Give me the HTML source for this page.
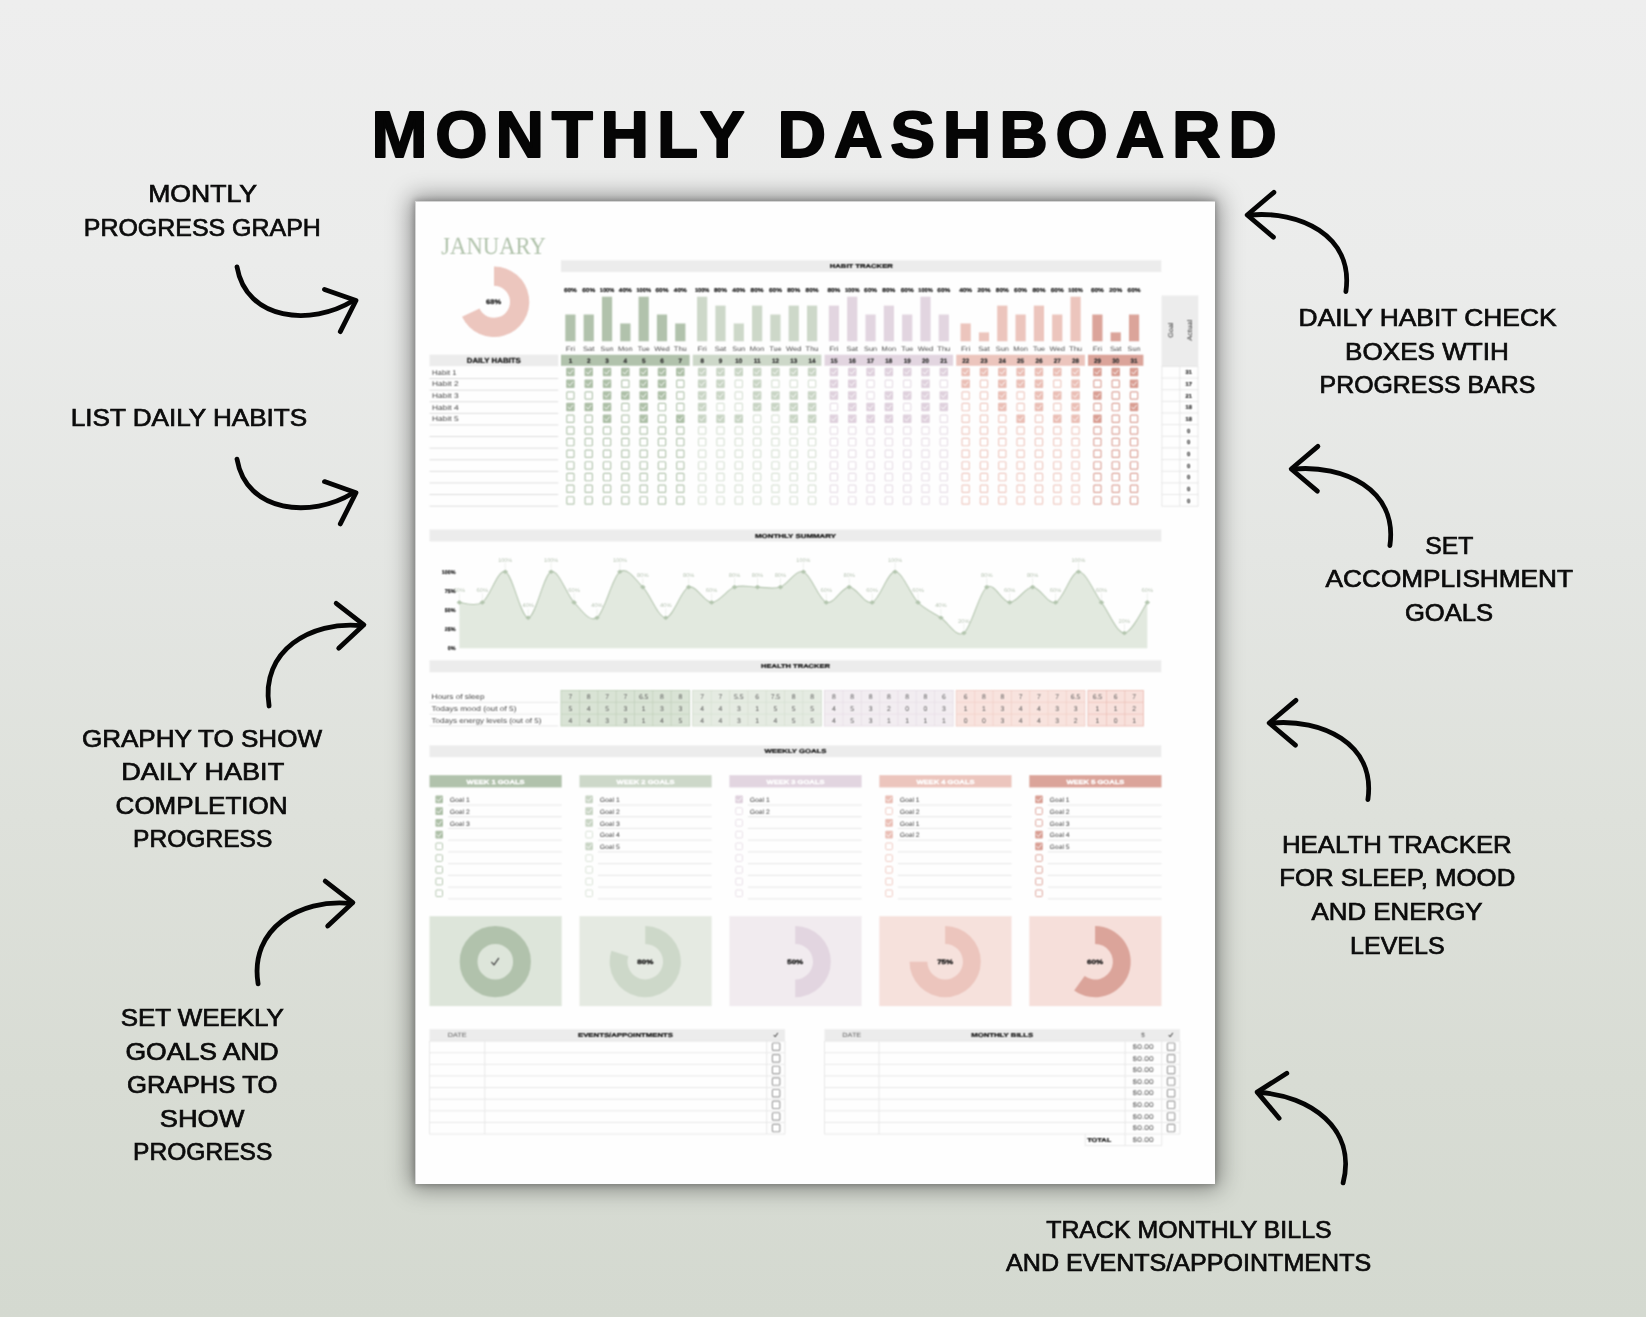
<!DOCTYPE html>
<html><head><meta charset="utf-8"><title>Monthly Dashboard</title>
<style>
html,body{margin:0;padding:0;}
body{width:1646px;height:1317px;overflow:hidden;font-family:"Liberation Sans",sans-serif;}
#root{position:relative;width:1646px;height:1317px;overflow:hidden;
 background:linear-gradient(180deg,#eeeeee 0%,#ebeceb 20%,#e4e6e3 42%,#dee1db 62%,#d8dcd4 82%,#d4d9d0 100%);}
#paper{position:absolute;left:415px;top:201px;width:799px;height:982px;background:#fefefe;border-top:1px solid #d4d4d4;border-left:1px solid #d4d4d4;
 box-shadow:0 0 22px 4px rgba(0,0,0,.42),0 0 6px 1px rgba(0,0,0,.24);}
svg{position:absolute;left:0;top:0;will-change:transform;}
.lab{font-family:"Liberation Sans",sans-serif;font-size:23.6px;fill:#0b0b0b;stroke:#0b0b0b;stroke-width:.7px;}
.ttl{font-family:"Liberation Sans",sans-serif;font-weight:bold;font-size:64px;fill:#050505;stroke:#050505;stroke-width:1.9px;stroke-linejoin:round;}
.arr{fill:none;stroke:#050505;stroke-width:4.8;stroke-linecap:round;stroke-linejoin:round;}
</style></head><body>
<div id="root">
<div id="paper"></div>

<svg id="ov" width="1646" height="1317" viewBox="0 0 1646 1317">
<text class="ttl" transform="translate(371.5,156.6) scale(1.05,1)" letter-spacing="7.45">MONTHLY DASHBOARD</text>
<text class="lab" x="148.2" y="201.8" textLength="108.8" lengthAdjust="spacingAndGlyphs">MONTLY</text>
<text class="lab" x="83.8" y="235.5" textLength="237.0" lengthAdjust="spacingAndGlyphs">PROGRESS GRAPH</text>
<text class="lab" x="70.8" y="426.1" textLength="236.4" lengthAdjust="spacingAndGlyphs">LIST DAILY HABITS</text>
<text class="lab" x="81.9" y="746.5" textLength="240.1" lengthAdjust="spacingAndGlyphs">GRAPHY TO SHOW</text>
<text class="lab" x="121.2" y="780.1" textLength="163.0" lengthAdjust="spacingAndGlyphs">DAILY HABIT</text>
<text class="lab" x="115.6" y="813.7" textLength="172.0" lengthAdjust="spacingAndGlyphs">COMPLETION</text>
<text class="lab" x="133.1" y="847.3" textLength="139.2" lengthAdjust="spacingAndGlyphs">PROGRESS</text>
<text class="lab" x="120.7" y="1026.1" textLength="163.2" lengthAdjust="spacingAndGlyphs">SET WEEKLY</text>
<text class="lab" x="125.4" y="1059.6" textLength="153.4" lengthAdjust="spacingAndGlyphs">GOALS AND</text>
<text class="lab" x="127.0" y="1093.3" textLength="150.4" lengthAdjust="spacingAndGlyphs">GRAPHS TO</text>
<text class="lab" x="159.8" y="1126.8" textLength="84.5" lengthAdjust="spacingAndGlyphs">SHOW</text>
<text class="lab" x="133.1" y="1160.3" textLength="139.2" lengthAdjust="spacingAndGlyphs">PROGRESS</text>
<text class="lab" x="1298.6" y="326.0" textLength="258.0" lengthAdjust="spacingAndGlyphs">DAILY HABIT CHECK</text>
<text class="lab" x="1345.1" y="359.7" textLength="163.7" lengthAdjust="spacingAndGlyphs">BOXES WTIH</text>
<text class="lab" x="1319.6" y="393.0" textLength="215.7" lengthAdjust="spacingAndGlyphs">PROGRESS BARS</text>
<text class="lab" x="1425.3" y="554.1" textLength="48.0" lengthAdjust="spacingAndGlyphs">SET</text>
<text class="lab" x="1325.6" y="587.4" textLength="247.4" lengthAdjust="spacingAndGlyphs">ACCOMPLISHMENT</text>
<text class="lab" x="1404.9" y="620.8" textLength="88.2" lengthAdjust="spacingAndGlyphs">GOALS</text>
<text class="lab" x="1282.0" y="852.8" textLength="229.7" lengthAdjust="spacingAndGlyphs">HEALTH TRACKER</text>
<text class="lab" x="1279.2" y="886.2" textLength="236.1" lengthAdjust="spacingAndGlyphs">FOR SLEEP, MOOD</text>
<text class="lab" x="1311.5" y="919.9" textLength="171.0" lengthAdjust="spacingAndGlyphs">AND ENERGY</text>
<text class="lab" x="1350.1" y="953.6" textLength="94.5" lengthAdjust="spacingAndGlyphs">LEVELS</text>
<text class="lab" x="1046.2" y="1237.8" textLength="285.4" lengthAdjust="spacingAndGlyphs">TRACK MONTHLY BILLS</text>
<text class="lab" x="1006.1" y="1271.1" textLength="365.1" lengthAdjust="spacingAndGlyphs">AND EVENTS/APPOINTMENTS</text>
<g transform="translate(0,0)"><path class="arr" d="M237,266.9 C246.3,320.9 311.5,326.3 353,300.8"/><path class="arr" d="M324.5,289.4 L356,300.5 L340.3,331.7"/></g>
<g transform="translate(0,192.2)"><path class="arr" d="M237,266.9 C246.3,320.9 311.5,326.3 353,300.8"/><path class="arr" d="M324.5,289.4 L356,300.5 L340.3,331.7"/></g>
<g transform="translate(0,0)"><path class="arr" d="M269.1,706 C260,650.4 311.3,620.9 361,625.6"/><path class="arr" d="M336.2,603.3 L363.9,624.8 L338.7,648.2"/></g>
<g transform="translate(-11,277.8)"><path class="arr" d="M269.1,706 C260,650.4 311.3,620.9 361,625.6"/><path class="arr" d="M336.2,603.3 L363.9,624.8 L338.7,648.2"/></g>
<g transform="translate(0,0)"><path class="arr" d="M1345.9,291.5 C1354,234.7 1298.5,210.6 1250,215"/><path class="arr" d="M1273.9,192.3 L1247.2,215 L1273.4,237.2"/></g>
<g transform="translate(44,254)"><path class="arr" d="M1345.9,291.5 C1354,234.7 1298.5,210.6 1250,215"/><path class="arr" d="M1273.9,192.3 L1247.2,215 L1273.4,237.2"/></g>
<g transform="translate(22,508)"><path class="arr" d="M1345.9,291.5 C1354,234.7 1298.5,210.6 1250,215"/><path class="arr" d="M1273.9,192.3 L1247.2,215 L1273.4,237.2"/></g>
<g><path class="arr" d="M1343.1,1182.9 C1357.2,1127.9 1308.9,1095.8 1260,1092.5"/><path class="arr" d="M1286.8,1073.3 L1257.2,1092.1 L1279.1,1118.2"/></g>
</svg>
<svg id="pp" width="1646" height="1317" viewBox="0 0 1646 1317" font-family="'Liberation Sans',sans-serif" text-rendering="geometricPrecision"><defs><filter id="bl" x="416" y="202" width="798" height="981" filterUnits="userSpaceOnUse" color-interpolation-filters="sRGB"><feConvolveMatrix order="3" kernelMatrix="1 2 1 2 4 2 1 2 1" divisor="16" edgeMode="duplicate" preserveAlpha="false"/></filter></defs><g filter="url(#bl)">
<text x="441.20" y="253.80" font-size="24.5" fill="#b1c3ac" text-anchor="start" font-weight="normal" textLength="104.6" lengthAdjust="spacingAndGlyphs" font-family='Liberation Serif' >JANUARY</text>
<path d="M494.00,266.50 A35.30,35.30 0 1 1 462.06,316.83 L479.52,308.61 A16.00,16.00 0 1 0 494.00,285.80 Z" fill="#ecc6be"/>
<text x="493.60" y="304.10" font-size="6.6" fill="#111" text-anchor="middle" font-weight="bold" textLength="15.0" lengthAdjust="spacingAndGlyphs" stroke="#111" stroke-width=".25">68%</text>
<rect x="561.00" y="260.30" width="600.30" height="11.70" fill="#ececec" />
<text x="861.30" y="268.40" font-size="5.8" fill="#111" text-anchor="middle" font-weight="bold" textLength="63.0" lengthAdjust="spacingAndGlyphs"  stroke="#111" stroke-width=".22">HABIT TRACKER</text>
<rect x="565.30" y="314.54" width="10.20" height="26.76" fill="#b1c2ac" />
<text x="570.40" y="292.30" font-size="5.6" fill="#111" text-anchor="middle" font-weight="bold" textLength="13.0" lengthAdjust="spacingAndGlyphs" stroke="#111" stroke-width=".2">60%</text>
<text x="570.40" y="351.00" font-size="6.5" fill="#4c4c4c" text-anchor="middle" font-weight="normal" textLength="9.5" lengthAdjust="spacingAndGlyphs" >Fri</text>
<rect x="583.62" y="314.54" width="10.20" height="26.76" fill="#b1c2ac" />
<text x="588.72" y="292.30" font-size="5.6" fill="#111" text-anchor="middle" font-weight="bold" textLength="13.0" lengthAdjust="spacingAndGlyphs" stroke="#111" stroke-width=".2">60%</text>
<text x="588.72" y="351.00" font-size="6.5" fill="#4c4c4c" text-anchor="middle" font-weight="normal" textLength="11.5" lengthAdjust="spacingAndGlyphs" >Sat</text>
<rect x="601.94" y="296.70" width="10.20" height="44.60" fill="#b1c2ac" />
<text x="607.04" y="292.30" font-size="5.6" fill="#111" text-anchor="middle" font-weight="bold" textLength="14.5" lengthAdjust="spacingAndGlyphs" stroke="#111" stroke-width=".2">100%</text>
<text x="607.04" y="351.00" font-size="6.5" fill="#4c4c4c" text-anchor="middle" font-weight="normal" textLength="13.0" lengthAdjust="spacingAndGlyphs" >Sun</text>
<rect x="620.26" y="323.46" width="10.20" height="17.84" fill="#b1c2ac" />
<text x="625.36" y="292.30" font-size="5.6" fill="#111" text-anchor="middle" font-weight="bold" textLength="13.0" lengthAdjust="spacingAndGlyphs" stroke="#111" stroke-width=".2">40%</text>
<text x="625.36" y="351.00" font-size="6.5" fill="#4c4c4c" text-anchor="middle" font-weight="normal" textLength="14.5" lengthAdjust="spacingAndGlyphs" >Mon</text>
<rect x="638.58" y="296.70" width="10.20" height="44.60" fill="#b1c2ac" />
<text x="643.68" y="292.30" font-size="5.6" fill="#111" text-anchor="middle" font-weight="bold" textLength="14.5" lengthAdjust="spacingAndGlyphs" stroke="#111" stroke-width=".2">100%</text>
<text x="643.68" y="351.00" font-size="6.5" fill="#4c4c4c" text-anchor="middle" font-weight="normal" textLength="12.0" lengthAdjust="spacingAndGlyphs" >Tue</text>
<rect x="656.90" y="314.54" width="10.20" height="26.76" fill="#b1c2ac" />
<text x="662.00" y="292.30" font-size="5.6" fill="#111" text-anchor="middle" font-weight="bold" textLength="13.0" lengthAdjust="spacingAndGlyphs" stroke="#111" stroke-width=".2">60%</text>
<text x="662.00" y="351.00" font-size="6.5" fill="#4c4c4c" text-anchor="middle" font-weight="normal" textLength="15.5" lengthAdjust="spacingAndGlyphs" >Wed</text>
<rect x="675.22" y="323.46" width="10.20" height="17.84" fill="#b1c2ac" />
<text x="680.32" y="292.30" font-size="5.6" fill="#111" text-anchor="middle" font-weight="bold" textLength="13.0" lengthAdjust="spacingAndGlyphs" stroke="#111" stroke-width=".2">40%</text>
<text x="680.32" y="351.00" font-size="6.5" fill="#4c4c4c" text-anchor="middle" font-weight="normal" textLength="13.0" lengthAdjust="spacingAndGlyphs" >Thu</text>
<rect x="697.05" y="296.70" width="10.20" height="44.60" fill="#cdd8c9" />
<text x="702.15" y="292.30" font-size="5.6" fill="#111" text-anchor="middle" font-weight="bold" textLength="14.5" lengthAdjust="spacingAndGlyphs" stroke="#111" stroke-width=".2">100%</text>
<text x="702.15" y="351.00" font-size="6.5" fill="#4c4c4c" text-anchor="middle" font-weight="normal" textLength="9.5" lengthAdjust="spacingAndGlyphs" >Fri</text>
<rect x="715.37" y="305.62" width="10.20" height="35.68" fill="#cdd8c9" />
<text x="720.47" y="292.30" font-size="5.6" fill="#111" text-anchor="middle" font-weight="bold" textLength="13.0" lengthAdjust="spacingAndGlyphs" stroke="#111" stroke-width=".2">80%</text>
<text x="720.47" y="351.00" font-size="6.5" fill="#4c4c4c" text-anchor="middle" font-weight="normal" textLength="11.5" lengthAdjust="spacingAndGlyphs" >Sat</text>
<rect x="733.69" y="323.46" width="10.20" height="17.84" fill="#cdd8c9" />
<text x="738.79" y="292.30" font-size="5.6" fill="#111" text-anchor="middle" font-weight="bold" textLength="13.0" lengthAdjust="spacingAndGlyphs" stroke="#111" stroke-width=".2">40%</text>
<text x="738.79" y="351.00" font-size="6.5" fill="#4c4c4c" text-anchor="middle" font-weight="normal" textLength="13.0" lengthAdjust="spacingAndGlyphs" >Sun</text>
<rect x="752.01" y="305.62" width="10.20" height="35.68" fill="#cdd8c9" />
<text x="757.11" y="292.30" font-size="5.6" fill="#111" text-anchor="middle" font-weight="bold" textLength="13.0" lengthAdjust="spacingAndGlyphs" stroke="#111" stroke-width=".2">80%</text>
<text x="757.11" y="351.00" font-size="6.5" fill="#4c4c4c" text-anchor="middle" font-weight="normal" textLength="14.5" lengthAdjust="spacingAndGlyphs" >Mon</text>
<rect x="770.33" y="314.54" width="10.20" height="26.76" fill="#cdd8c9" />
<text x="775.43" y="292.30" font-size="5.6" fill="#111" text-anchor="middle" font-weight="bold" textLength="13.0" lengthAdjust="spacingAndGlyphs" stroke="#111" stroke-width=".2">60%</text>
<text x="775.43" y="351.00" font-size="6.5" fill="#4c4c4c" text-anchor="middle" font-weight="normal" textLength="12.0" lengthAdjust="spacingAndGlyphs" >Tue</text>
<rect x="788.65" y="305.62" width="10.20" height="35.68" fill="#cdd8c9" />
<text x="793.75" y="292.30" font-size="5.6" fill="#111" text-anchor="middle" font-weight="bold" textLength="13.0" lengthAdjust="spacingAndGlyphs" stroke="#111" stroke-width=".2">80%</text>
<text x="793.75" y="351.00" font-size="6.5" fill="#4c4c4c" text-anchor="middle" font-weight="normal" textLength="15.5" lengthAdjust="spacingAndGlyphs" >Wed</text>
<rect x="806.97" y="305.62" width="10.20" height="35.68" fill="#cdd8c9" />
<text x="812.07" y="292.30" font-size="5.6" fill="#111" text-anchor="middle" font-weight="bold" textLength="13.0" lengthAdjust="spacingAndGlyphs" stroke="#111" stroke-width=".2">80%</text>
<text x="812.07" y="351.00" font-size="6.5" fill="#4c4c4c" text-anchor="middle" font-weight="normal" textLength="13.0" lengthAdjust="spacingAndGlyphs" >Thu</text>
<rect x="828.80" y="305.62" width="10.20" height="35.68" fill="#e2d5e0" />
<text x="833.90" y="292.30" font-size="5.6" fill="#111" text-anchor="middle" font-weight="bold" textLength="13.0" lengthAdjust="spacingAndGlyphs" stroke="#111" stroke-width=".2">80%</text>
<text x="833.90" y="351.00" font-size="6.5" fill="#4c4c4c" text-anchor="middle" font-weight="normal" textLength="9.5" lengthAdjust="spacingAndGlyphs" >Fri</text>
<rect x="847.12" y="296.70" width="10.20" height="44.60" fill="#e2d5e0" />
<text x="852.22" y="292.30" font-size="5.6" fill="#111" text-anchor="middle" font-weight="bold" textLength="14.5" lengthAdjust="spacingAndGlyphs" stroke="#111" stroke-width=".2">100%</text>
<text x="852.22" y="351.00" font-size="6.5" fill="#4c4c4c" text-anchor="middle" font-weight="normal" textLength="11.5" lengthAdjust="spacingAndGlyphs" >Sat</text>
<rect x="865.44" y="314.54" width="10.20" height="26.76" fill="#e2d5e0" />
<text x="870.54" y="292.30" font-size="5.6" fill="#111" text-anchor="middle" font-weight="bold" textLength="13.0" lengthAdjust="spacingAndGlyphs" stroke="#111" stroke-width=".2">60%</text>
<text x="870.54" y="351.00" font-size="6.5" fill="#4c4c4c" text-anchor="middle" font-weight="normal" textLength="13.0" lengthAdjust="spacingAndGlyphs" >Sun</text>
<rect x="883.76" y="305.62" width="10.20" height="35.68" fill="#e2d5e0" />
<text x="888.86" y="292.30" font-size="5.6" fill="#111" text-anchor="middle" font-weight="bold" textLength="13.0" lengthAdjust="spacingAndGlyphs" stroke="#111" stroke-width=".2">80%</text>
<text x="888.86" y="351.00" font-size="6.5" fill="#4c4c4c" text-anchor="middle" font-weight="normal" textLength="14.5" lengthAdjust="spacingAndGlyphs" >Mon</text>
<rect x="902.08" y="314.54" width="10.20" height="26.76" fill="#e2d5e0" />
<text x="907.18" y="292.30" font-size="5.6" fill="#111" text-anchor="middle" font-weight="bold" textLength="13.0" lengthAdjust="spacingAndGlyphs" stroke="#111" stroke-width=".2">60%</text>
<text x="907.18" y="351.00" font-size="6.5" fill="#4c4c4c" text-anchor="middle" font-weight="normal" textLength="12.0" lengthAdjust="spacingAndGlyphs" >Tue</text>
<rect x="920.40" y="296.70" width="10.20" height="44.60" fill="#e2d5e0" />
<text x="925.50" y="292.30" font-size="5.6" fill="#111" text-anchor="middle" font-weight="bold" textLength="14.5" lengthAdjust="spacingAndGlyphs" stroke="#111" stroke-width=".2">100%</text>
<text x="925.50" y="351.00" font-size="6.5" fill="#4c4c4c" text-anchor="middle" font-weight="normal" textLength="15.5" lengthAdjust="spacingAndGlyphs" >Wed</text>
<rect x="938.72" y="314.54" width="10.20" height="26.76" fill="#e2d5e0" />
<text x="943.82" y="292.30" font-size="5.6" fill="#111" text-anchor="middle" font-weight="bold" textLength="13.0" lengthAdjust="spacingAndGlyphs" stroke="#111" stroke-width=".2">60%</text>
<text x="943.82" y="351.00" font-size="6.5" fill="#4c4c4c" text-anchor="middle" font-weight="normal" textLength="13.0" lengthAdjust="spacingAndGlyphs" >Thu</text>
<rect x="960.55" y="323.46" width="10.20" height="17.84" fill="#ecc5bd" />
<text x="965.65" y="292.30" font-size="5.6" fill="#111" text-anchor="middle" font-weight="bold" textLength="13.0" lengthAdjust="spacingAndGlyphs" stroke="#111" stroke-width=".2">40%</text>
<text x="965.65" y="351.00" font-size="6.5" fill="#4c4c4c" text-anchor="middle" font-weight="normal" textLength="9.5" lengthAdjust="spacingAndGlyphs" >Fri</text>
<rect x="978.87" y="332.38" width="10.20" height="8.92" fill="#ecc5bd" />
<text x="983.97" y="292.30" font-size="5.6" fill="#111" text-anchor="middle" font-weight="bold" textLength="13.0" lengthAdjust="spacingAndGlyphs" stroke="#111" stroke-width=".2">20%</text>
<text x="983.97" y="351.00" font-size="6.5" fill="#4c4c4c" text-anchor="middle" font-weight="normal" textLength="11.5" lengthAdjust="spacingAndGlyphs" >Sat</text>
<rect x="997.19" y="305.62" width="10.20" height="35.68" fill="#ecc5bd" />
<text x="1002.29" y="292.30" font-size="5.6" fill="#111" text-anchor="middle" font-weight="bold" textLength="13.0" lengthAdjust="spacingAndGlyphs" stroke="#111" stroke-width=".2">80%</text>
<text x="1002.29" y="351.00" font-size="6.5" fill="#4c4c4c" text-anchor="middle" font-weight="normal" textLength="13.0" lengthAdjust="spacingAndGlyphs" >Sun</text>
<rect x="1015.51" y="314.54" width="10.20" height="26.76" fill="#ecc5bd" />
<text x="1020.61" y="292.30" font-size="5.6" fill="#111" text-anchor="middle" font-weight="bold" textLength="13.0" lengthAdjust="spacingAndGlyphs" stroke="#111" stroke-width=".2">60%</text>
<text x="1020.61" y="351.00" font-size="6.5" fill="#4c4c4c" text-anchor="middle" font-weight="normal" textLength="14.5" lengthAdjust="spacingAndGlyphs" >Mon</text>
<rect x="1033.83" y="305.62" width="10.20" height="35.68" fill="#ecc5bd" />
<text x="1038.93" y="292.30" font-size="5.6" fill="#111" text-anchor="middle" font-weight="bold" textLength="13.0" lengthAdjust="spacingAndGlyphs" stroke="#111" stroke-width=".2">80%</text>
<text x="1038.93" y="351.00" font-size="6.5" fill="#4c4c4c" text-anchor="middle" font-weight="normal" textLength="12.0" lengthAdjust="spacingAndGlyphs" >Tue</text>
<rect x="1052.15" y="314.54" width="10.20" height="26.76" fill="#ecc5bd" />
<text x="1057.25" y="292.30" font-size="5.6" fill="#111" text-anchor="middle" font-weight="bold" textLength="13.0" lengthAdjust="spacingAndGlyphs" stroke="#111" stroke-width=".2">60%</text>
<text x="1057.25" y="351.00" font-size="6.5" fill="#4c4c4c" text-anchor="middle" font-weight="normal" textLength="15.5" lengthAdjust="spacingAndGlyphs" >Wed</text>
<rect x="1070.47" y="296.70" width="10.20" height="44.60" fill="#ecc5bd" />
<text x="1075.57" y="292.30" font-size="5.6" fill="#111" text-anchor="middle" font-weight="bold" textLength="14.5" lengthAdjust="spacingAndGlyphs" stroke="#111" stroke-width=".2">100%</text>
<text x="1075.57" y="351.00" font-size="6.5" fill="#4c4c4c" text-anchor="middle" font-weight="normal" textLength="13.0" lengthAdjust="spacingAndGlyphs" >Thu</text>
<rect x="1092.30" y="314.54" width="10.20" height="26.76" fill="#dba49a" />
<text x="1097.40" y="292.30" font-size="5.6" fill="#111" text-anchor="middle" font-weight="bold" textLength="13.0" lengthAdjust="spacingAndGlyphs" stroke="#111" stroke-width=".2">60%</text>
<text x="1097.40" y="351.00" font-size="6.5" fill="#4c4c4c" text-anchor="middle" font-weight="normal" textLength="9.5" lengthAdjust="spacingAndGlyphs" >Fri</text>
<rect x="1110.62" y="332.38" width="10.20" height="8.92" fill="#dba49a" />
<text x="1115.72" y="292.30" font-size="5.6" fill="#111" text-anchor="middle" font-weight="bold" textLength="13.0" lengthAdjust="spacingAndGlyphs" stroke="#111" stroke-width=".2">20%</text>
<text x="1115.72" y="351.00" font-size="6.5" fill="#4c4c4c" text-anchor="middle" font-weight="normal" textLength="11.5" lengthAdjust="spacingAndGlyphs" >Sat</text>
<rect x="1128.94" y="314.54" width="10.20" height="26.76" fill="#dba49a" />
<text x="1134.04" y="292.30" font-size="5.6" fill="#111" text-anchor="middle" font-weight="bold" textLength="13.0" lengthAdjust="spacingAndGlyphs" stroke="#111" stroke-width=".2">60%</text>
<text x="1134.04" y="351.00" font-size="6.5" fill="#4c4c4c" text-anchor="middle" font-weight="normal" textLength="13.0" lengthAdjust="spacingAndGlyphs" >Sun</text>
<rect x="561.00" y="354.70" width="128.64" height="11.10" fill="#b1c2ac" />
<rect x="692.75" y="354.70" width="128.64" height="11.10" fill="#cdd8c9" />
<rect x="824.50" y="354.70" width="128.64" height="11.10" fill="#e2d5e0" />
<rect x="956.25" y="354.70" width="128.64" height="11.10" fill="#ecc5bd" />
<rect x="1088.00" y="354.70" width="55.36" height="11.10" fill="#dba49a" />
<text x="570.40" y="362.60" font-size="6.3" fill="#333" text-anchor="middle" font-weight="bold"  stroke="#333" stroke-width=".22">1</text>
<text x="588.72" y="362.60" font-size="6.3" fill="#333" text-anchor="middle" font-weight="bold"  stroke="#333" stroke-width=".22">2</text>
<text x="607.04" y="362.60" font-size="6.3" fill="#333" text-anchor="middle" font-weight="bold"  stroke="#333" stroke-width=".22">3</text>
<text x="625.36" y="362.60" font-size="6.3" fill="#333" text-anchor="middle" font-weight="bold"  stroke="#333" stroke-width=".22">4</text>
<text x="643.68" y="362.60" font-size="6.3" fill="#333" text-anchor="middle" font-weight="bold"  stroke="#333" stroke-width=".22">5</text>
<text x="662.00" y="362.60" font-size="6.3" fill="#333" text-anchor="middle" font-weight="bold"  stroke="#333" stroke-width=".22">6</text>
<text x="680.32" y="362.60" font-size="6.3" fill="#333" text-anchor="middle" font-weight="bold"  stroke="#333" stroke-width=".22">7</text>
<text x="702.15" y="362.60" font-size="6.3" fill="#333" text-anchor="middle" font-weight="bold"  stroke="#333" stroke-width=".22">8</text>
<text x="720.47" y="362.60" font-size="6.3" fill="#333" text-anchor="middle" font-weight="bold"  stroke="#333" stroke-width=".22">9</text>
<text x="738.79" y="362.60" font-size="6.3" fill="#333" text-anchor="middle" font-weight="bold"  stroke="#333" stroke-width=".22">10</text>
<text x="757.11" y="362.60" font-size="6.3" fill="#333" text-anchor="middle" font-weight="bold"  stroke="#333" stroke-width=".22">11</text>
<text x="775.43" y="362.60" font-size="6.3" fill="#333" text-anchor="middle" font-weight="bold"  stroke="#333" stroke-width=".22">12</text>
<text x="793.75" y="362.60" font-size="6.3" fill="#333" text-anchor="middle" font-weight="bold"  stroke="#333" stroke-width=".22">13</text>
<text x="812.07" y="362.60" font-size="6.3" fill="#333" text-anchor="middle" font-weight="bold"  stroke="#333" stroke-width=".22">14</text>
<text x="833.90" y="362.60" font-size="6.3" fill="#333" text-anchor="middle" font-weight="bold"  stroke="#333" stroke-width=".22">15</text>
<text x="852.22" y="362.60" font-size="6.3" fill="#333" text-anchor="middle" font-weight="bold"  stroke="#333" stroke-width=".22">16</text>
<text x="870.54" y="362.60" font-size="6.3" fill="#333" text-anchor="middle" font-weight="bold"  stroke="#333" stroke-width=".22">17</text>
<text x="888.86" y="362.60" font-size="6.3" fill="#333" text-anchor="middle" font-weight="bold"  stroke="#333" stroke-width=".22">18</text>
<text x="907.18" y="362.60" font-size="6.3" fill="#333" text-anchor="middle" font-weight="bold"  stroke="#333" stroke-width=".22">19</text>
<text x="925.50" y="362.60" font-size="6.3" fill="#333" text-anchor="middle" font-weight="bold"  stroke="#333" stroke-width=".22">20</text>
<text x="943.82" y="362.60" font-size="6.3" fill="#333" text-anchor="middle" font-weight="bold"  stroke="#333" stroke-width=".22">21</text>
<text x="965.65" y="362.60" font-size="6.3" fill="#333" text-anchor="middle" font-weight="bold"  stroke="#333" stroke-width=".22">22</text>
<text x="983.97" y="362.60" font-size="6.3" fill="#333" text-anchor="middle" font-weight="bold"  stroke="#333" stroke-width=".22">23</text>
<text x="1002.29" y="362.60" font-size="6.3" fill="#333" text-anchor="middle" font-weight="bold"  stroke="#333" stroke-width=".22">24</text>
<text x="1020.61" y="362.60" font-size="6.3" fill="#333" text-anchor="middle" font-weight="bold"  stroke="#333" stroke-width=".22">25</text>
<text x="1038.93" y="362.60" font-size="6.3" fill="#333" text-anchor="middle" font-weight="bold"  stroke="#333" stroke-width=".22">26</text>
<text x="1057.25" y="362.60" font-size="6.3" fill="#333" text-anchor="middle" font-weight="bold"  stroke="#333" stroke-width=".22">27</text>
<text x="1075.57" y="362.60" font-size="6.3" fill="#333" text-anchor="middle" font-weight="bold"  stroke="#333" stroke-width=".22">28</text>
<text x="1097.40" y="362.60" font-size="6.3" fill="#333" text-anchor="middle" font-weight="bold"  stroke="#333" stroke-width=".22">29</text>
<text x="1115.72" y="362.60" font-size="6.3" fill="#333" text-anchor="middle" font-weight="bold"  stroke="#333" stroke-width=".22">30</text>
<text x="1134.04" y="362.60" font-size="6.3" fill="#333" text-anchor="middle" font-weight="bold"  stroke="#333" stroke-width=".22">31</text>
<rect x="429.50" y="354.70" width="128.80" height="11.50" fill="#ececec" />
<text x="493.80" y="363.00" font-size="7.3" fill="#111" text-anchor="middle" font-weight="bold" textLength="54.0" lengthAdjust="spacingAndGlyphs"  stroke="#111" stroke-width=".22">DAILY HABITS</text>
<line x1="429.50" y1="378.55" x2="558.30" y2="378.55" stroke="#dcdcdc" stroke-width="0.9"/>
<line x1="429.50" y1="390.15" x2="558.30" y2="390.15" stroke="#dcdcdc" stroke-width="0.9"/>
<line x1="429.50" y1="401.75" x2="558.30" y2="401.75" stroke="#dcdcdc" stroke-width="0.9"/>
<line x1="429.50" y1="413.35" x2="558.30" y2="413.35" stroke="#dcdcdc" stroke-width="0.9"/>
<line x1="429.50" y1="424.95" x2="558.30" y2="424.95" stroke="#dcdcdc" stroke-width="0.9"/>
<line x1="429.50" y1="436.55" x2="558.30" y2="436.55" stroke="#dcdcdc" stroke-width="0.9"/>
<line x1="429.50" y1="448.15" x2="558.30" y2="448.15" stroke="#dcdcdc" stroke-width="0.9"/>
<line x1="429.50" y1="459.75" x2="558.30" y2="459.75" stroke="#dcdcdc" stroke-width="0.9"/>
<line x1="429.50" y1="471.35" x2="558.30" y2="471.35" stroke="#dcdcdc" stroke-width="0.9"/>
<line x1="429.50" y1="482.95" x2="558.30" y2="482.95" stroke="#dcdcdc" stroke-width="0.9"/>
<line x1="429.50" y1="494.55" x2="558.30" y2="494.55" stroke="#dcdcdc" stroke-width="0.9"/>
<line x1="429.50" y1="506.15" x2="558.30" y2="506.15" stroke="#dcdcdc" stroke-width="0.9"/>
<text x="432.00" y="374.80" font-size="6.9" fill="#484848" text-anchor="start" font-weight="normal" textLength="24.5" lengthAdjust="spacingAndGlyphs" >Habit 1</text>
<text x="432.00" y="386.45" font-size="6.9" fill="#484848" text-anchor="start" font-weight="normal" textLength="26.6" lengthAdjust="spacingAndGlyphs" >Habit 2</text>
<text x="432.00" y="398.10" font-size="6.9" fill="#484848" text-anchor="start" font-weight="normal" textLength="26.6" lengthAdjust="spacingAndGlyphs" >Habit 3</text>
<text x="432.00" y="409.75" font-size="6.9" fill="#484848" text-anchor="start" font-weight="normal" textLength="26.6" lengthAdjust="spacingAndGlyphs" >Habit 4</text>
<text x="432.00" y="421.40" font-size="6.9" fill="#484848" text-anchor="start" font-weight="normal" textLength="26.6" lengthAdjust="spacingAndGlyphs" >Habit 5</text>
<rect x="566.15" y="367.85" width="8.50" height="8.50" rx="1.0" fill="#aec0a8"/>
<path d="M568.10,372.20 l1.7,1.8 l3.1,-3.8" fill="none" stroke="#fff" stroke-opacity=".85" stroke-width="0.95" stroke-linecap="round" stroke-linejoin="round"/>
<rect x="584.47" y="367.85" width="8.50" height="8.50" rx="1.0" fill="#aec0a8"/>
<path d="M586.42,372.20 l1.7,1.8 l3.1,-3.8" fill="none" stroke="#fff" stroke-opacity=".85" stroke-width="0.95" stroke-linecap="round" stroke-linejoin="round"/>
<rect x="602.79" y="367.85" width="8.50" height="8.50" rx="1.0" fill="#aec0a8"/>
<path d="M604.74,372.20 l1.7,1.8 l3.1,-3.8" fill="none" stroke="#fff" stroke-opacity=".85" stroke-width="0.95" stroke-linecap="round" stroke-linejoin="round"/>
<rect x="621.11" y="367.85" width="8.50" height="8.50" rx="1.0" fill="#aec0a8"/>
<path d="M623.06,372.20 l1.7,1.8 l3.1,-3.8" fill="none" stroke="#fff" stroke-opacity=".85" stroke-width="0.95" stroke-linecap="round" stroke-linejoin="round"/>
<rect x="639.43" y="367.85" width="8.50" height="8.50" rx="1.0" fill="#aec0a8"/>
<path d="M641.38,372.20 l1.7,1.8 l3.1,-3.8" fill="none" stroke="#fff" stroke-opacity=".85" stroke-width="0.95" stroke-linecap="round" stroke-linejoin="round"/>
<rect x="657.75" y="367.85" width="8.50" height="8.50" rx="1.0" fill="#aec0a8"/>
<path d="M659.70,372.20 l1.7,1.8 l3.1,-3.8" fill="none" stroke="#fff" stroke-opacity=".85" stroke-width="0.95" stroke-linecap="round" stroke-linejoin="round"/>
<rect x="676.07" y="367.85" width="8.50" height="8.50" rx="1.0" fill="#aec0a8"/>
<path d="M678.02,372.20 l1.7,1.8 l3.1,-3.8" fill="none" stroke="#fff" stroke-opacity=".85" stroke-width="0.95" stroke-linecap="round" stroke-linejoin="round"/>
<rect x="697.90" y="367.85" width="8.50" height="8.50" rx="1.0" fill="#c9d5c5"/>
<path d="M699.85,372.20 l1.7,1.8 l3.1,-3.8" fill="none" stroke="#fff" stroke-opacity=".85" stroke-width="0.95" stroke-linecap="round" stroke-linejoin="round"/>
<rect x="716.22" y="367.85" width="8.50" height="8.50" rx="1.0" fill="#c9d5c5"/>
<path d="M718.17,372.20 l1.7,1.8 l3.1,-3.8" fill="none" stroke="#fff" stroke-opacity=".85" stroke-width="0.95" stroke-linecap="round" stroke-linejoin="round"/>
<rect x="734.54" y="367.85" width="8.50" height="8.50" rx="1.0" fill="#c9d5c5"/>
<path d="M736.49,372.20 l1.7,1.8 l3.1,-3.8" fill="none" stroke="#fff" stroke-opacity=".85" stroke-width="0.95" stroke-linecap="round" stroke-linejoin="round"/>
<rect x="752.86" y="367.85" width="8.50" height="8.50" rx="1.0" fill="#c9d5c5"/>
<path d="M754.81,372.20 l1.7,1.8 l3.1,-3.8" fill="none" stroke="#fff" stroke-opacity=".85" stroke-width="0.95" stroke-linecap="round" stroke-linejoin="round"/>
<rect x="771.18" y="367.85" width="8.50" height="8.50" rx="1.0" fill="#c9d5c5"/>
<path d="M773.13,372.20 l1.7,1.8 l3.1,-3.8" fill="none" stroke="#fff" stroke-opacity=".85" stroke-width="0.95" stroke-linecap="round" stroke-linejoin="round"/>
<rect x="789.50" y="367.85" width="8.50" height="8.50" rx="1.0" fill="#c9d5c5"/>
<path d="M791.45,372.20 l1.7,1.8 l3.1,-3.8" fill="none" stroke="#fff" stroke-opacity=".85" stroke-width="0.95" stroke-linecap="round" stroke-linejoin="round"/>
<rect x="807.82" y="367.85" width="8.50" height="8.50" rx="1.0" fill="#c9d5c5"/>
<path d="M809.77,372.20 l1.7,1.8 l3.1,-3.8" fill="none" stroke="#fff" stroke-opacity=".85" stroke-width="0.95" stroke-linecap="round" stroke-linejoin="round"/>
<rect x="829.65" y="367.85" width="8.50" height="8.50" rx="1.0" fill="#dfd1dd"/>
<path d="M831.60,372.20 l1.7,1.8 l3.1,-3.8" fill="none" stroke="#fff" stroke-opacity=".85" stroke-width="0.95" stroke-linecap="round" stroke-linejoin="round"/>
<rect x="847.97" y="367.85" width="8.50" height="8.50" rx="1.0" fill="#dfd1dd"/>
<path d="M849.92,372.20 l1.7,1.8 l3.1,-3.8" fill="none" stroke="#fff" stroke-opacity=".85" stroke-width="0.95" stroke-linecap="round" stroke-linejoin="round"/>
<rect x="866.29" y="367.85" width="8.50" height="8.50" rx="1.0" fill="#dfd1dd"/>
<path d="M868.24,372.20 l1.7,1.8 l3.1,-3.8" fill="none" stroke="#fff" stroke-opacity=".85" stroke-width="0.95" stroke-linecap="round" stroke-linejoin="round"/>
<rect x="884.61" y="367.85" width="8.50" height="8.50" rx="1.0" fill="#dfd1dd"/>
<path d="M886.56,372.20 l1.7,1.8 l3.1,-3.8" fill="none" stroke="#fff" stroke-opacity=".85" stroke-width="0.95" stroke-linecap="round" stroke-linejoin="round"/>
<rect x="902.93" y="367.85" width="8.50" height="8.50" rx="1.0" fill="#dfd1dd"/>
<path d="M904.88,372.20 l1.7,1.8 l3.1,-3.8" fill="none" stroke="#fff" stroke-opacity=".85" stroke-width="0.95" stroke-linecap="round" stroke-linejoin="round"/>
<rect x="921.25" y="367.85" width="8.50" height="8.50" rx="1.0" fill="#dfd1dd"/>
<path d="M923.20,372.20 l1.7,1.8 l3.1,-3.8" fill="none" stroke="#fff" stroke-opacity=".85" stroke-width="0.95" stroke-linecap="round" stroke-linejoin="round"/>
<rect x="939.57" y="367.85" width="8.50" height="8.50" rx="1.0" fill="#dfd1dd"/>
<path d="M941.52,372.20 l1.7,1.8 l3.1,-3.8" fill="none" stroke="#fff" stroke-opacity=".85" stroke-width="0.95" stroke-linecap="round" stroke-linejoin="round"/>
<rect x="961.40" y="367.85" width="8.50" height="8.50" rx="1.0" fill="#eabfb6"/>
<path d="M963.35,372.20 l1.7,1.8 l3.1,-3.8" fill="none" stroke="#fff" stroke-opacity=".85" stroke-width="0.95" stroke-linecap="round" stroke-linejoin="round"/>
<rect x="979.72" y="367.85" width="8.50" height="8.50" rx="1.0" fill="#eabfb6"/>
<path d="M981.67,372.20 l1.7,1.8 l3.1,-3.8" fill="none" stroke="#fff" stroke-opacity=".85" stroke-width="0.95" stroke-linecap="round" stroke-linejoin="round"/>
<rect x="998.04" y="367.85" width="8.50" height="8.50" rx="1.0" fill="#eabfb6"/>
<path d="M999.99,372.20 l1.7,1.8 l3.1,-3.8" fill="none" stroke="#fff" stroke-opacity=".85" stroke-width="0.95" stroke-linecap="round" stroke-linejoin="round"/>
<rect x="1016.36" y="367.85" width="8.50" height="8.50" rx="1.0" fill="#eabfb6"/>
<path d="M1018.31,372.20 l1.7,1.8 l3.1,-3.8" fill="none" stroke="#fff" stroke-opacity=".85" stroke-width="0.95" stroke-linecap="round" stroke-linejoin="round"/>
<rect x="1034.68" y="367.85" width="8.50" height="8.50" rx="1.0" fill="#eabfb6"/>
<path d="M1036.63,372.20 l1.7,1.8 l3.1,-3.8" fill="none" stroke="#fff" stroke-opacity=".85" stroke-width="0.95" stroke-linecap="round" stroke-linejoin="round"/>
<rect x="1053.00" y="367.85" width="8.50" height="8.50" rx="1.0" fill="#eabfb6"/>
<path d="M1054.95,372.20 l1.7,1.8 l3.1,-3.8" fill="none" stroke="#fff" stroke-opacity=".85" stroke-width="0.95" stroke-linecap="round" stroke-linejoin="round"/>
<rect x="1071.32" y="367.85" width="8.50" height="8.50" rx="1.0" fill="#eabfb6"/>
<path d="M1073.27,372.20 l1.7,1.8 l3.1,-3.8" fill="none" stroke="#fff" stroke-opacity=".85" stroke-width="0.95" stroke-linecap="round" stroke-linejoin="round"/>
<rect x="1093.15" y="367.85" width="8.50" height="8.50" rx="1.0" fill="#d99f94"/>
<path d="M1095.10,372.20 l1.7,1.8 l3.1,-3.8" fill="none" stroke="#fff" stroke-opacity=".85" stroke-width="0.95" stroke-linecap="round" stroke-linejoin="round"/>
<rect x="1111.47" y="367.85" width="8.50" height="8.50" rx="1.0" fill="#d99f94"/>
<path d="M1113.42,372.20 l1.7,1.8 l3.1,-3.8" fill="none" stroke="#fff" stroke-opacity=".85" stroke-width="0.95" stroke-linecap="round" stroke-linejoin="round"/>
<rect x="1129.79" y="367.85" width="8.50" height="8.50" rx="1.0" fill="#d99f94"/>
<path d="M1131.74,372.20 l1.7,1.8 l3.1,-3.8" fill="none" stroke="#fff" stroke-opacity=".85" stroke-width="0.95" stroke-linecap="round" stroke-linejoin="round"/>
<rect x="566.15" y="379.52" width="8.50" height="8.50" rx="1.0" fill="#aec0a8"/>
<path d="M568.10,383.87 l1.7,1.8 l3.1,-3.8" fill="none" stroke="#fff" stroke-opacity=".85" stroke-width="0.95" stroke-linecap="round" stroke-linejoin="round"/>
<rect x="584.47" y="379.52" width="8.50" height="8.50" rx="1.0" fill="#aec0a8"/>
<path d="M586.42,383.87 l1.7,1.8 l3.1,-3.8" fill="none" stroke="#fff" stroke-opacity=".85" stroke-width="0.95" stroke-linecap="round" stroke-linejoin="round"/>
<rect x="602.79" y="379.52" width="8.50" height="8.50" rx="1.0" fill="#aec0a8"/>
<path d="M604.74,383.87 l1.7,1.8 l3.1,-3.8" fill="none" stroke="#fff" stroke-opacity=".85" stroke-width="0.95" stroke-linecap="round" stroke-linejoin="round"/>
<rect x="621.71" y="380.12" width="7.30" height="7.30" rx="0.9" fill="#fff" stroke="#b7c8b2" stroke-width="1.2"/>
<rect x="639.43" y="379.52" width="8.50" height="8.50" rx="1.0" fill="#aec0a8"/>
<path d="M641.38,383.87 l1.7,1.8 l3.1,-3.8" fill="none" stroke="#fff" stroke-opacity=".85" stroke-width="0.95" stroke-linecap="round" stroke-linejoin="round"/>
<rect x="657.75" y="379.52" width="8.50" height="8.50" rx="1.0" fill="#aec0a8"/>
<path d="M659.70,383.87 l1.7,1.8 l3.1,-3.8" fill="none" stroke="#fff" stroke-opacity=".85" stroke-width="0.95" stroke-linecap="round" stroke-linejoin="round"/>
<rect x="676.67" y="380.12" width="7.30" height="7.30" rx="0.9" fill="#fff" stroke="#b7c8b2" stroke-width="1.2"/>
<rect x="697.90" y="379.52" width="8.50" height="8.50" rx="1.0" fill="#c9d5c5"/>
<path d="M699.85,383.87 l1.7,1.8 l3.1,-3.8" fill="none" stroke="#fff" stroke-opacity=".85" stroke-width="0.95" stroke-linecap="round" stroke-linejoin="round"/>
<rect x="716.22" y="379.52" width="8.50" height="8.50" rx="1.0" fill="#c9d5c5"/>
<path d="M718.17,383.87 l1.7,1.8 l3.1,-3.8" fill="none" stroke="#fff" stroke-opacity=".85" stroke-width="0.95" stroke-linecap="round" stroke-linejoin="round"/>
<rect x="735.14" y="380.12" width="7.30" height="7.30" rx="0.9" fill="#fff" stroke="#d9e2d6" stroke-width="1.2"/>
<rect x="752.86" y="379.52" width="8.50" height="8.50" rx="1.0" fill="#c9d5c5"/>
<path d="M754.81,383.87 l1.7,1.8 l3.1,-3.8" fill="none" stroke="#fff" stroke-opacity=".85" stroke-width="0.95" stroke-linecap="round" stroke-linejoin="round"/>
<rect x="771.78" y="380.12" width="7.30" height="7.30" rx="0.9" fill="#fff" stroke="#d9e2d6" stroke-width="1.2"/>
<rect x="790.10" y="380.12" width="7.30" height="7.30" rx="0.9" fill="#fff" stroke="#d9e2d6" stroke-width="1.2"/>
<rect x="808.42" y="380.12" width="7.30" height="7.30" rx="0.9" fill="#fff" stroke="#d9e2d6" stroke-width="1.2"/>
<rect x="829.65" y="379.52" width="8.50" height="8.50" rx="1.0" fill="#dfd1dd"/>
<path d="M831.60,383.87 l1.7,1.8 l3.1,-3.8" fill="none" stroke="#fff" stroke-opacity=".85" stroke-width="0.95" stroke-linecap="round" stroke-linejoin="round"/>
<rect x="847.97" y="379.52" width="8.50" height="8.50" rx="1.0" fill="#dfd1dd"/>
<path d="M849.92,383.87 l1.7,1.8 l3.1,-3.8" fill="none" stroke="#fff" stroke-opacity=".85" stroke-width="0.95" stroke-linecap="round" stroke-linejoin="round"/>
<rect x="866.89" y="380.12" width="7.30" height="7.30" rx="0.9" fill="#fff" stroke="#e8dfe7" stroke-width="1.2"/>
<rect x="885.21" y="380.12" width="7.30" height="7.30" rx="0.9" fill="#fff" stroke="#e8dfe7" stroke-width="1.2"/>
<rect x="903.53" y="380.12" width="7.30" height="7.30" rx="0.9" fill="#fff" stroke="#e8dfe7" stroke-width="1.2"/>
<rect x="921.25" y="379.52" width="8.50" height="8.50" rx="1.0" fill="#dfd1dd"/>
<path d="M923.20,383.87 l1.7,1.8 l3.1,-3.8" fill="none" stroke="#fff" stroke-opacity=".85" stroke-width="0.95" stroke-linecap="round" stroke-linejoin="round"/>
<rect x="940.17" y="380.12" width="7.30" height="7.30" rx="0.9" fill="#fff" stroke="#e8dfe7" stroke-width="1.2"/>
<rect x="961.40" y="379.52" width="8.50" height="8.50" rx="1.0" fill="#eabfb6"/>
<path d="M963.35,383.87 l1.7,1.8 l3.1,-3.8" fill="none" stroke="#fff" stroke-opacity=".85" stroke-width="0.95" stroke-linecap="round" stroke-linejoin="round"/>
<rect x="980.32" y="380.12" width="7.30" height="7.30" rx="0.9" fill="#fff" stroke="#efcbc3" stroke-width="1.2"/>
<rect x="998.04" y="379.52" width="8.50" height="8.50" rx="1.0" fill="#eabfb6"/>
<path d="M999.99,383.87 l1.7,1.8 l3.1,-3.8" fill="none" stroke="#fff" stroke-opacity=".85" stroke-width="0.95" stroke-linecap="round" stroke-linejoin="round"/>
<rect x="1016.36" y="379.52" width="8.50" height="8.50" rx="1.0" fill="#eabfb6"/>
<path d="M1018.31,383.87 l1.7,1.8 l3.1,-3.8" fill="none" stroke="#fff" stroke-opacity=".85" stroke-width="0.95" stroke-linecap="round" stroke-linejoin="round"/>
<rect x="1034.68" y="379.52" width="8.50" height="8.50" rx="1.0" fill="#eabfb6"/>
<path d="M1036.63,383.87 l1.7,1.8 l3.1,-3.8" fill="none" stroke="#fff" stroke-opacity=".85" stroke-width="0.95" stroke-linecap="round" stroke-linejoin="round"/>
<rect x="1053.60" y="380.12" width="7.30" height="7.30" rx="0.9" fill="#fff" stroke="#efcbc3" stroke-width="1.2"/>
<rect x="1071.32" y="379.52" width="8.50" height="8.50" rx="1.0" fill="#eabfb6"/>
<path d="M1073.27,383.87 l1.7,1.8 l3.1,-3.8" fill="none" stroke="#fff" stroke-opacity=".85" stroke-width="0.95" stroke-linecap="round" stroke-linejoin="round"/>
<rect x="1093.75" y="380.12" width="7.30" height="7.30" rx="0.9" fill="#fff" stroke="#dda79d" stroke-width="1.2"/>
<rect x="1112.07" y="380.12" width="7.30" height="7.30" rx="0.9" fill="#fff" stroke="#dda79d" stroke-width="1.2"/>
<rect x="1129.79" y="379.52" width="8.50" height="8.50" rx="1.0" fill="#d99f94"/>
<path d="M1131.74,383.87 l1.7,1.8 l3.1,-3.8" fill="none" stroke="#fff" stroke-opacity=".85" stroke-width="0.95" stroke-linecap="round" stroke-linejoin="round"/>
<rect x="566.75" y="391.78" width="7.30" height="7.30" rx="0.9" fill="#fff" stroke="#b7c8b2" stroke-width="1.2"/>
<rect x="585.07" y="391.78" width="7.30" height="7.30" rx="0.9" fill="#fff" stroke="#b7c8b2" stroke-width="1.2"/>
<rect x="602.79" y="391.18" width="8.50" height="8.50" rx="1.0" fill="#aec0a8"/>
<path d="M604.74,395.53 l1.7,1.8 l3.1,-3.8" fill="none" stroke="#fff" stroke-opacity=".85" stroke-width="0.95" stroke-linecap="round" stroke-linejoin="round"/>
<rect x="621.11" y="391.18" width="8.50" height="8.50" rx="1.0" fill="#aec0a8"/>
<path d="M623.06,395.53 l1.7,1.8 l3.1,-3.8" fill="none" stroke="#fff" stroke-opacity=".85" stroke-width="0.95" stroke-linecap="round" stroke-linejoin="round"/>
<rect x="639.43" y="391.18" width="8.50" height="8.50" rx="1.0" fill="#aec0a8"/>
<path d="M641.38,395.53 l1.7,1.8 l3.1,-3.8" fill="none" stroke="#fff" stroke-opacity=".85" stroke-width="0.95" stroke-linecap="round" stroke-linejoin="round"/>
<rect x="657.75" y="391.18" width="8.50" height="8.50" rx="1.0" fill="#aec0a8"/>
<path d="M659.70,395.53 l1.7,1.8 l3.1,-3.8" fill="none" stroke="#fff" stroke-opacity=".85" stroke-width="0.95" stroke-linecap="round" stroke-linejoin="round"/>
<rect x="676.67" y="391.78" width="7.30" height="7.30" rx="0.9" fill="#fff" stroke="#b7c8b2" stroke-width="1.2"/>
<rect x="697.90" y="391.18" width="8.50" height="8.50" rx="1.0" fill="#c9d5c5"/>
<path d="M699.85,395.53 l1.7,1.8 l3.1,-3.8" fill="none" stroke="#fff" stroke-opacity=".85" stroke-width="0.95" stroke-linecap="round" stroke-linejoin="round"/>
<rect x="716.22" y="391.18" width="8.50" height="8.50" rx="1.0" fill="#c9d5c5"/>
<path d="M718.17,395.53 l1.7,1.8 l3.1,-3.8" fill="none" stroke="#fff" stroke-opacity=".85" stroke-width="0.95" stroke-linecap="round" stroke-linejoin="round"/>
<rect x="735.14" y="391.78" width="7.30" height="7.30" rx="0.9" fill="#fff" stroke="#d9e2d6" stroke-width="1.2"/>
<rect x="752.86" y="391.18" width="8.50" height="8.50" rx="1.0" fill="#c9d5c5"/>
<path d="M754.81,395.53 l1.7,1.8 l3.1,-3.8" fill="none" stroke="#fff" stroke-opacity=".85" stroke-width="0.95" stroke-linecap="round" stroke-linejoin="round"/>
<rect x="771.18" y="391.18" width="8.50" height="8.50" rx="1.0" fill="#c9d5c5"/>
<path d="M773.13,395.53 l1.7,1.8 l3.1,-3.8" fill="none" stroke="#fff" stroke-opacity=".85" stroke-width="0.95" stroke-linecap="round" stroke-linejoin="round"/>
<rect x="789.50" y="391.18" width="8.50" height="8.50" rx="1.0" fill="#c9d5c5"/>
<path d="M791.45,395.53 l1.7,1.8 l3.1,-3.8" fill="none" stroke="#fff" stroke-opacity=".85" stroke-width="0.95" stroke-linecap="round" stroke-linejoin="round"/>
<rect x="807.82" y="391.18" width="8.50" height="8.50" rx="1.0" fill="#c9d5c5"/>
<path d="M809.77,395.53 l1.7,1.8 l3.1,-3.8" fill="none" stroke="#fff" stroke-opacity=".85" stroke-width="0.95" stroke-linecap="round" stroke-linejoin="round"/>
<rect x="829.65" y="391.18" width="8.50" height="8.50" rx="1.0" fill="#dfd1dd"/>
<path d="M831.60,395.53 l1.7,1.8 l3.1,-3.8" fill="none" stroke="#fff" stroke-opacity=".85" stroke-width="0.95" stroke-linecap="round" stroke-linejoin="round"/>
<rect x="847.97" y="391.18" width="8.50" height="8.50" rx="1.0" fill="#dfd1dd"/>
<path d="M849.92,395.53 l1.7,1.8 l3.1,-3.8" fill="none" stroke="#fff" stroke-opacity=".85" stroke-width="0.95" stroke-linecap="round" stroke-linejoin="round"/>
<rect x="866.89" y="391.78" width="7.30" height="7.30" rx="0.9" fill="#fff" stroke="#e8dfe7" stroke-width="1.2"/>
<rect x="884.61" y="391.18" width="8.50" height="8.50" rx="1.0" fill="#dfd1dd"/>
<path d="M886.56,395.53 l1.7,1.8 l3.1,-3.8" fill="none" stroke="#fff" stroke-opacity=".85" stroke-width="0.95" stroke-linecap="round" stroke-linejoin="round"/>
<rect x="902.93" y="391.18" width="8.50" height="8.50" rx="1.0" fill="#dfd1dd"/>
<path d="M904.88,395.53 l1.7,1.8 l3.1,-3.8" fill="none" stroke="#fff" stroke-opacity=".85" stroke-width="0.95" stroke-linecap="round" stroke-linejoin="round"/>
<rect x="921.25" y="391.18" width="8.50" height="8.50" rx="1.0" fill="#dfd1dd"/>
<path d="M923.20,395.53 l1.7,1.8 l3.1,-3.8" fill="none" stroke="#fff" stroke-opacity=".85" stroke-width="0.95" stroke-linecap="round" stroke-linejoin="round"/>
<rect x="939.57" y="391.18" width="8.50" height="8.50" rx="1.0" fill="#dfd1dd"/>
<path d="M941.52,395.53 l1.7,1.8 l3.1,-3.8" fill="none" stroke="#fff" stroke-opacity=".85" stroke-width="0.95" stroke-linecap="round" stroke-linejoin="round"/>
<rect x="962.00" y="391.78" width="7.30" height="7.30" rx="0.9" fill="#fff" stroke="#efcbc3" stroke-width="1.2"/>
<rect x="980.32" y="391.78" width="7.30" height="7.30" rx="0.9" fill="#fff" stroke="#efcbc3" stroke-width="1.2"/>
<rect x="998.04" y="391.18" width="8.50" height="8.50" rx="1.0" fill="#eabfb6"/>
<path d="M999.99,395.53 l1.7,1.8 l3.1,-3.8" fill="none" stroke="#fff" stroke-opacity=".85" stroke-width="0.95" stroke-linecap="round" stroke-linejoin="round"/>
<rect x="1016.96" y="391.78" width="7.30" height="7.30" rx="0.9" fill="#fff" stroke="#efcbc3" stroke-width="1.2"/>
<rect x="1034.68" y="391.18" width="8.50" height="8.50" rx="1.0" fill="#eabfb6"/>
<path d="M1036.63,395.53 l1.7,1.8 l3.1,-3.8" fill="none" stroke="#fff" stroke-opacity=".85" stroke-width="0.95" stroke-linecap="round" stroke-linejoin="round"/>
<rect x="1053.00" y="391.18" width="8.50" height="8.50" rx="1.0" fill="#eabfb6"/>
<path d="M1054.95,395.53 l1.7,1.8 l3.1,-3.8" fill="none" stroke="#fff" stroke-opacity=".85" stroke-width="0.95" stroke-linecap="round" stroke-linejoin="round"/>
<rect x="1071.32" y="391.18" width="8.50" height="8.50" rx="1.0" fill="#eabfb6"/>
<path d="M1073.27,395.53 l1.7,1.8 l3.1,-3.8" fill="none" stroke="#fff" stroke-opacity=".85" stroke-width="0.95" stroke-linecap="round" stroke-linejoin="round"/>
<rect x="1093.15" y="391.18" width="8.50" height="8.50" rx="1.0" fill="#d99f94"/>
<path d="M1095.10,395.53 l1.7,1.8 l3.1,-3.8" fill="none" stroke="#fff" stroke-opacity=".85" stroke-width="0.95" stroke-linecap="round" stroke-linejoin="round"/>
<rect x="1112.07" y="391.78" width="7.30" height="7.30" rx="0.9" fill="#fff" stroke="#dda79d" stroke-width="1.2"/>
<rect x="1130.39" y="391.78" width="7.30" height="7.30" rx="0.9" fill="#fff" stroke="#dda79d" stroke-width="1.2"/>
<rect x="566.15" y="402.85" width="8.50" height="8.50" rx="1.0" fill="#aec0a8"/>
<path d="M568.10,407.20 l1.7,1.8 l3.1,-3.8" fill="none" stroke="#fff" stroke-opacity=".85" stroke-width="0.95" stroke-linecap="round" stroke-linejoin="round"/>
<rect x="584.47" y="402.85" width="8.50" height="8.50" rx="1.0" fill="#aec0a8"/>
<path d="M586.42,407.20 l1.7,1.8 l3.1,-3.8" fill="none" stroke="#fff" stroke-opacity=".85" stroke-width="0.95" stroke-linecap="round" stroke-linejoin="round"/>
<rect x="602.79" y="402.85" width="8.50" height="8.50" rx="1.0" fill="#aec0a8"/>
<path d="M604.74,407.20 l1.7,1.8 l3.1,-3.8" fill="none" stroke="#fff" stroke-opacity=".85" stroke-width="0.95" stroke-linecap="round" stroke-linejoin="round"/>
<rect x="621.71" y="403.45" width="7.30" height="7.30" rx="0.9" fill="#fff" stroke="#b7c8b2" stroke-width="1.2"/>
<rect x="639.43" y="402.85" width="8.50" height="8.50" rx="1.0" fill="#aec0a8"/>
<path d="M641.38,407.20 l1.7,1.8 l3.1,-3.8" fill="none" stroke="#fff" stroke-opacity=".85" stroke-width="0.95" stroke-linecap="round" stroke-linejoin="round"/>
<rect x="658.35" y="403.45" width="7.30" height="7.30" rx="0.9" fill="#fff" stroke="#b7c8b2" stroke-width="1.2"/>
<rect x="676.67" y="403.45" width="7.30" height="7.30" rx="0.9" fill="#fff" stroke="#b7c8b2" stroke-width="1.2"/>
<rect x="697.90" y="402.85" width="8.50" height="8.50" rx="1.0" fill="#c9d5c5"/>
<path d="M699.85,407.20 l1.7,1.8 l3.1,-3.8" fill="none" stroke="#fff" stroke-opacity=".85" stroke-width="0.95" stroke-linecap="round" stroke-linejoin="round"/>
<rect x="716.82" y="403.45" width="7.30" height="7.30" rx="0.9" fill="#fff" stroke="#d9e2d6" stroke-width="1.2"/>
<rect x="735.14" y="403.45" width="7.30" height="7.30" rx="0.9" fill="#fff" stroke="#d9e2d6" stroke-width="1.2"/>
<rect x="752.86" y="402.85" width="8.50" height="8.50" rx="1.0" fill="#c9d5c5"/>
<path d="M754.81,407.20 l1.7,1.8 l3.1,-3.8" fill="none" stroke="#fff" stroke-opacity=".85" stroke-width="0.95" stroke-linecap="round" stroke-linejoin="round"/>
<rect x="771.18" y="402.85" width="8.50" height="8.50" rx="1.0" fill="#c9d5c5"/>
<path d="M773.13,407.20 l1.7,1.8 l3.1,-3.8" fill="none" stroke="#fff" stroke-opacity=".85" stroke-width="0.95" stroke-linecap="round" stroke-linejoin="round"/>
<rect x="789.50" y="402.85" width="8.50" height="8.50" rx="1.0" fill="#c9d5c5"/>
<path d="M791.45,407.20 l1.7,1.8 l3.1,-3.8" fill="none" stroke="#fff" stroke-opacity=".85" stroke-width="0.95" stroke-linecap="round" stroke-linejoin="round"/>
<rect x="807.82" y="402.85" width="8.50" height="8.50" rx="1.0" fill="#c9d5c5"/>
<path d="M809.77,407.20 l1.7,1.8 l3.1,-3.8" fill="none" stroke="#fff" stroke-opacity=".85" stroke-width="0.95" stroke-linecap="round" stroke-linejoin="round"/>
<rect x="830.25" y="403.45" width="7.30" height="7.30" rx="0.9" fill="#fff" stroke="#e8dfe7" stroke-width="1.2"/>
<rect x="847.97" y="402.85" width="8.50" height="8.50" rx="1.0" fill="#dfd1dd"/>
<path d="M849.92,407.20 l1.7,1.8 l3.1,-3.8" fill="none" stroke="#fff" stroke-opacity=".85" stroke-width="0.95" stroke-linecap="round" stroke-linejoin="round"/>
<rect x="866.29" y="402.85" width="8.50" height="8.50" rx="1.0" fill="#dfd1dd"/>
<path d="M868.24,407.20 l1.7,1.8 l3.1,-3.8" fill="none" stroke="#fff" stroke-opacity=".85" stroke-width="0.95" stroke-linecap="round" stroke-linejoin="round"/>
<rect x="884.61" y="402.85" width="8.50" height="8.50" rx="1.0" fill="#dfd1dd"/>
<path d="M886.56,407.20 l1.7,1.8 l3.1,-3.8" fill="none" stroke="#fff" stroke-opacity=".85" stroke-width="0.95" stroke-linecap="round" stroke-linejoin="round"/>
<rect x="903.53" y="403.45" width="7.30" height="7.30" rx="0.9" fill="#fff" stroke="#e8dfe7" stroke-width="1.2"/>
<rect x="921.25" y="402.85" width="8.50" height="8.50" rx="1.0" fill="#dfd1dd"/>
<path d="M923.20,407.20 l1.7,1.8 l3.1,-3.8" fill="none" stroke="#fff" stroke-opacity=".85" stroke-width="0.95" stroke-linecap="round" stroke-linejoin="round"/>
<rect x="939.57" y="402.85" width="8.50" height="8.50" rx="1.0" fill="#dfd1dd"/>
<path d="M941.52,407.20 l1.7,1.8 l3.1,-3.8" fill="none" stroke="#fff" stroke-opacity=".85" stroke-width="0.95" stroke-linecap="round" stroke-linejoin="round"/>
<rect x="962.00" y="403.45" width="7.30" height="7.30" rx="0.9" fill="#fff" stroke="#efcbc3" stroke-width="1.2"/>
<rect x="980.32" y="403.45" width="7.30" height="7.30" rx="0.9" fill="#fff" stroke="#efcbc3" stroke-width="1.2"/>
<rect x="998.04" y="402.85" width="8.50" height="8.50" rx="1.0" fill="#eabfb6"/>
<path d="M999.99,407.20 l1.7,1.8 l3.1,-3.8" fill="none" stroke="#fff" stroke-opacity=".85" stroke-width="0.95" stroke-linecap="round" stroke-linejoin="round"/>
<rect x="1016.96" y="403.45" width="7.30" height="7.30" rx="0.9" fill="#fff" stroke="#efcbc3" stroke-width="1.2"/>
<rect x="1034.68" y="402.85" width="8.50" height="8.50" rx="1.0" fill="#eabfb6"/>
<path d="M1036.63,407.20 l1.7,1.8 l3.1,-3.8" fill="none" stroke="#fff" stroke-opacity=".85" stroke-width="0.95" stroke-linecap="round" stroke-linejoin="round"/>
<rect x="1053.60" y="403.45" width="7.30" height="7.30" rx="0.9" fill="#fff" stroke="#efcbc3" stroke-width="1.2"/>
<rect x="1071.32" y="402.85" width="8.50" height="8.50" rx="1.0" fill="#eabfb6"/>
<path d="M1073.27,407.20 l1.7,1.8 l3.1,-3.8" fill="none" stroke="#fff" stroke-opacity=".85" stroke-width="0.95" stroke-linecap="round" stroke-linejoin="round"/>
<rect x="1093.75" y="403.45" width="7.30" height="7.30" rx="0.9" fill="#fff" stroke="#dda79d" stroke-width="1.2"/>
<rect x="1112.07" y="403.45" width="7.30" height="7.30" rx="0.9" fill="#fff" stroke="#dda79d" stroke-width="1.2"/>
<rect x="1129.79" y="402.85" width="8.50" height="8.50" rx="1.0" fill="#d99f94"/>
<path d="M1131.74,407.20 l1.7,1.8 l3.1,-3.8" fill="none" stroke="#fff" stroke-opacity=".85" stroke-width="0.95" stroke-linecap="round" stroke-linejoin="round"/>
<rect x="566.75" y="415.11" width="7.30" height="7.30" rx="0.9" fill="#fff" stroke="#b7c8b2" stroke-width="1.2"/>
<rect x="585.07" y="415.11" width="7.30" height="7.30" rx="0.9" fill="#fff" stroke="#b7c8b2" stroke-width="1.2"/>
<rect x="602.79" y="414.51" width="8.50" height="8.50" rx="1.0" fill="#aec0a8"/>
<path d="M604.74,418.86 l1.7,1.8 l3.1,-3.8" fill="none" stroke="#fff" stroke-opacity=".85" stroke-width="0.95" stroke-linecap="round" stroke-linejoin="round"/>
<rect x="621.71" y="415.11" width="7.30" height="7.30" rx="0.9" fill="#fff" stroke="#b7c8b2" stroke-width="1.2"/>
<rect x="639.43" y="414.51" width="8.50" height="8.50" rx="1.0" fill="#aec0a8"/>
<path d="M641.38,418.86 l1.7,1.8 l3.1,-3.8" fill="none" stroke="#fff" stroke-opacity=".85" stroke-width="0.95" stroke-linecap="round" stroke-linejoin="round"/>
<rect x="658.35" y="415.11" width="7.30" height="7.30" rx="0.9" fill="#fff" stroke="#b7c8b2" stroke-width="1.2"/>
<rect x="676.07" y="414.51" width="8.50" height="8.50" rx="1.0" fill="#aec0a8"/>
<path d="M678.02,418.86 l1.7,1.8 l3.1,-3.8" fill="none" stroke="#fff" stroke-opacity=".85" stroke-width="0.95" stroke-linecap="round" stroke-linejoin="round"/>
<rect x="697.90" y="414.51" width="8.50" height="8.50" rx="1.0" fill="#c9d5c5"/>
<path d="M699.85,418.86 l1.7,1.8 l3.1,-3.8" fill="none" stroke="#fff" stroke-opacity=".85" stroke-width="0.95" stroke-linecap="round" stroke-linejoin="round"/>
<rect x="716.22" y="414.51" width="8.50" height="8.50" rx="1.0" fill="#c9d5c5"/>
<path d="M718.17,418.86 l1.7,1.8 l3.1,-3.8" fill="none" stroke="#fff" stroke-opacity=".85" stroke-width="0.95" stroke-linecap="round" stroke-linejoin="round"/>
<rect x="734.54" y="414.51" width="8.50" height="8.50" rx="1.0" fill="#c9d5c5"/>
<path d="M736.49,418.86 l1.7,1.8 l3.1,-3.8" fill="none" stroke="#fff" stroke-opacity=".85" stroke-width="0.95" stroke-linecap="round" stroke-linejoin="round"/>
<rect x="753.46" y="415.11" width="7.30" height="7.30" rx="0.9" fill="#fff" stroke="#d9e2d6" stroke-width="1.2"/>
<rect x="771.78" y="415.11" width="7.30" height="7.30" rx="0.9" fill="#fff" stroke="#d9e2d6" stroke-width="1.2"/>
<rect x="789.50" y="414.51" width="8.50" height="8.50" rx="1.0" fill="#c9d5c5"/>
<path d="M791.45,418.86 l1.7,1.8 l3.1,-3.8" fill="none" stroke="#fff" stroke-opacity=".85" stroke-width="0.95" stroke-linecap="round" stroke-linejoin="round"/>
<rect x="807.82" y="414.51" width="8.50" height="8.50" rx="1.0" fill="#c9d5c5"/>
<path d="M809.77,418.86 l1.7,1.8 l3.1,-3.8" fill="none" stroke="#fff" stroke-opacity=".85" stroke-width="0.95" stroke-linecap="round" stroke-linejoin="round"/>
<rect x="829.65" y="414.51" width="8.50" height="8.50" rx="1.0" fill="#dfd1dd"/>
<path d="M831.60,418.86 l1.7,1.8 l3.1,-3.8" fill="none" stroke="#fff" stroke-opacity=".85" stroke-width="0.95" stroke-linecap="round" stroke-linejoin="round"/>
<rect x="847.97" y="414.51" width="8.50" height="8.50" rx="1.0" fill="#dfd1dd"/>
<path d="M849.92,418.86 l1.7,1.8 l3.1,-3.8" fill="none" stroke="#fff" stroke-opacity=".85" stroke-width="0.95" stroke-linecap="round" stroke-linejoin="round"/>
<rect x="866.29" y="414.51" width="8.50" height="8.50" rx="1.0" fill="#dfd1dd"/>
<path d="M868.24,418.86 l1.7,1.8 l3.1,-3.8" fill="none" stroke="#fff" stroke-opacity=".85" stroke-width="0.95" stroke-linecap="round" stroke-linejoin="round"/>
<rect x="884.61" y="414.51" width="8.50" height="8.50" rx="1.0" fill="#dfd1dd"/>
<path d="M886.56,418.86 l1.7,1.8 l3.1,-3.8" fill="none" stroke="#fff" stroke-opacity=".85" stroke-width="0.95" stroke-linecap="round" stroke-linejoin="round"/>
<rect x="902.93" y="414.51" width="8.50" height="8.50" rx="1.0" fill="#dfd1dd"/>
<path d="M904.88,418.86 l1.7,1.8 l3.1,-3.8" fill="none" stroke="#fff" stroke-opacity=".85" stroke-width="0.95" stroke-linecap="round" stroke-linejoin="round"/>
<rect x="921.25" y="414.51" width="8.50" height="8.50" rx="1.0" fill="#dfd1dd"/>
<path d="M923.20,418.86 l1.7,1.8 l3.1,-3.8" fill="none" stroke="#fff" stroke-opacity=".85" stroke-width="0.95" stroke-linecap="round" stroke-linejoin="round"/>
<rect x="940.17" y="415.11" width="7.30" height="7.30" rx="0.9" fill="#fff" stroke="#e8dfe7" stroke-width="1.2"/>
<rect x="962.00" y="415.11" width="7.30" height="7.30" rx="0.9" fill="#fff" stroke="#efcbc3" stroke-width="1.2"/>
<rect x="980.32" y="415.11" width="7.30" height="7.30" rx="0.9" fill="#fff" stroke="#efcbc3" stroke-width="1.2"/>
<rect x="998.64" y="415.11" width="7.30" height="7.30" rx="0.9" fill="#fff" stroke="#efcbc3" stroke-width="1.2"/>
<rect x="1016.36" y="414.51" width="8.50" height="8.50" rx="1.0" fill="#eabfb6"/>
<path d="M1018.31,418.86 l1.7,1.8 l3.1,-3.8" fill="none" stroke="#fff" stroke-opacity=".85" stroke-width="0.95" stroke-linecap="round" stroke-linejoin="round"/>
<rect x="1035.28" y="415.11" width="7.30" height="7.30" rx="0.9" fill="#fff" stroke="#efcbc3" stroke-width="1.2"/>
<rect x="1053.00" y="414.51" width="8.50" height="8.50" rx="1.0" fill="#eabfb6"/>
<path d="M1054.95,418.86 l1.7,1.8 l3.1,-3.8" fill="none" stroke="#fff" stroke-opacity=".85" stroke-width="0.95" stroke-linecap="round" stroke-linejoin="round"/>
<rect x="1071.32" y="414.51" width="8.50" height="8.50" rx="1.0" fill="#eabfb6"/>
<path d="M1073.27,418.86 l1.7,1.8 l3.1,-3.8" fill="none" stroke="#fff" stroke-opacity=".85" stroke-width="0.95" stroke-linecap="round" stroke-linejoin="round"/>
<rect x="1093.15" y="414.51" width="8.50" height="8.50" rx="1.0" fill="#d99f94"/>
<path d="M1095.10,418.86 l1.7,1.8 l3.1,-3.8" fill="none" stroke="#fff" stroke-opacity=".85" stroke-width="0.95" stroke-linecap="round" stroke-linejoin="round"/>
<rect x="1112.07" y="415.11" width="7.30" height="7.30" rx="0.9" fill="#fff" stroke="#dda79d" stroke-width="1.2"/>
<rect x="1130.39" y="415.11" width="7.30" height="7.30" rx="0.9" fill="#fff" stroke="#dda79d" stroke-width="1.2"/>
<rect x="566.75" y="426.78" width="7.30" height="7.30" rx="0.9" fill="#fff" stroke="#b7c8b2" stroke-width="1.2"/>
<rect x="585.07" y="426.78" width="7.30" height="7.30" rx="0.9" fill="#fff" stroke="#b7c8b2" stroke-width="1.2"/>
<rect x="603.39" y="426.78" width="7.30" height="7.30" rx="0.9" fill="#fff" stroke="#b7c8b2" stroke-width="1.2"/>
<rect x="621.71" y="426.78" width="7.30" height="7.30" rx="0.9" fill="#fff" stroke="#b7c8b2" stroke-width="1.2"/>
<rect x="640.03" y="426.78" width="7.30" height="7.30" rx="0.9" fill="#fff" stroke="#b7c8b2" stroke-width="1.2"/>
<rect x="658.35" y="426.78" width="7.30" height="7.30" rx="0.9" fill="#fff" stroke="#b7c8b2" stroke-width="1.2"/>
<rect x="676.67" y="426.78" width="7.30" height="7.30" rx="0.9" fill="#fff" stroke="#b7c8b2" stroke-width="1.2"/>
<rect x="698.50" y="426.78" width="7.30" height="7.30" rx="0.9" fill="#fff" stroke="#d9e2d6" stroke-width="1.2"/>
<rect x="716.82" y="426.78" width="7.30" height="7.30" rx="0.9" fill="#fff" stroke="#d9e2d6" stroke-width="1.2"/>
<rect x="735.14" y="426.78" width="7.30" height="7.30" rx="0.9" fill="#fff" stroke="#d9e2d6" stroke-width="1.2"/>
<rect x="753.46" y="426.78" width="7.30" height="7.30" rx="0.9" fill="#fff" stroke="#d9e2d6" stroke-width="1.2"/>
<rect x="771.78" y="426.78" width="7.30" height="7.30" rx="0.9" fill="#fff" stroke="#d9e2d6" stroke-width="1.2"/>
<rect x="790.10" y="426.78" width="7.30" height="7.30" rx="0.9" fill="#fff" stroke="#d9e2d6" stroke-width="1.2"/>
<rect x="808.42" y="426.78" width="7.30" height="7.30" rx="0.9" fill="#fff" stroke="#d9e2d6" stroke-width="1.2"/>
<rect x="830.25" y="426.78" width="7.30" height="7.30" rx="0.9" fill="#fff" stroke="#e8dfe7" stroke-width="1.2"/>
<rect x="848.57" y="426.78" width="7.30" height="7.30" rx="0.9" fill="#fff" stroke="#e8dfe7" stroke-width="1.2"/>
<rect x="866.89" y="426.78" width="7.30" height="7.30" rx="0.9" fill="#fff" stroke="#e8dfe7" stroke-width="1.2"/>
<rect x="885.21" y="426.78" width="7.30" height="7.30" rx="0.9" fill="#fff" stroke="#e8dfe7" stroke-width="1.2"/>
<rect x="903.53" y="426.78" width="7.30" height="7.30" rx="0.9" fill="#fff" stroke="#e8dfe7" stroke-width="1.2"/>
<rect x="921.85" y="426.78" width="7.30" height="7.30" rx="0.9" fill="#fff" stroke="#e8dfe7" stroke-width="1.2"/>
<rect x="940.17" y="426.78" width="7.30" height="7.30" rx="0.9" fill="#fff" stroke="#e8dfe7" stroke-width="1.2"/>
<rect x="962.00" y="426.78" width="7.30" height="7.30" rx="0.9" fill="#fff" stroke="#efcbc3" stroke-width="1.2"/>
<rect x="980.32" y="426.78" width="7.30" height="7.30" rx="0.9" fill="#fff" stroke="#efcbc3" stroke-width="1.2"/>
<rect x="998.64" y="426.78" width="7.30" height="7.30" rx="0.9" fill="#fff" stroke="#efcbc3" stroke-width="1.2"/>
<rect x="1016.96" y="426.78" width="7.30" height="7.30" rx="0.9" fill="#fff" stroke="#efcbc3" stroke-width="1.2"/>
<rect x="1035.28" y="426.78" width="7.30" height="7.30" rx="0.9" fill="#fff" stroke="#efcbc3" stroke-width="1.2"/>
<rect x="1053.60" y="426.78" width="7.30" height="7.30" rx="0.9" fill="#fff" stroke="#efcbc3" stroke-width="1.2"/>
<rect x="1071.92" y="426.78" width="7.30" height="7.30" rx="0.9" fill="#fff" stroke="#efcbc3" stroke-width="1.2"/>
<rect x="1093.75" y="426.78" width="7.30" height="7.30" rx="0.9" fill="#fff" stroke="#dda79d" stroke-width="1.2"/>
<rect x="1112.07" y="426.78" width="7.30" height="7.30" rx="0.9" fill="#fff" stroke="#dda79d" stroke-width="1.2"/>
<rect x="1130.39" y="426.78" width="7.30" height="7.30" rx="0.9" fill="#fff" stroke="#dda79d" stroke-width="1.2"/>
<rect x="566.75" y="438.44" width="7.30" height="7.30" rx="0.9" fill="#fff" stroke="#b7c8b2" stroke-width="1.2"/>
<rect x="585.07" y="438.44" width="7.30" height="7.30" rx="0.9" fill="#fff" stroke="#b7c8b2" stroke-width="1.2"/>
<rect x="603.39" y="438.44" width="7.30" height="7.30" rx="0.9" fill="#fff" stroke="#b7c8b2" stroke-width="1.2"/>
<rect x="621.71" y="438.44" width="7.30" height="7.30" rx="0.9" fill="#fff" stroke="#b7c8b2" stroke-width="1.2"/>
<rect x="640.03" y="438.44" width="7.30" height="7.30" rx="0.9" fill="#fff" stroke="#b7c8b2" stroke-width="1.2"/>
<rect x="658.35" y="438.44" width="7.30" height="7.30" rx="0.9" fill="#fff" stroke="#b7c8b2" stroke-width="1.2"/>
<rect x="676.67" y="438.44" width="7.30" height="7.30" rx="0.9" fill="#fff" stroke="#b7c8b2" stroke-width="1.2"/>
<rect x="698.50" y="438.44" width="7.30" height="7.30" rx="0.9" fill="#fff" stroke="#d9e2d6" stroke-width="1.2"/>
<rect x="716.82" y="438.44" width="7.30" height="7.30" rx="0.9" fill="#fff" stroke="#d9e2d6" stroke-width="1.2"/>
<rect x="735.14" y="438.44" width="7.30" height="7.30" rx="0.9" fill="#fff" stroke="#d9e2d6" stroke-width="1.2"/>
<rect x="753.46" y="438.44" width="7.30" height="7.30" rx="0.9" fill="#fff" stroke="#d9e2d6" stroke-width="1.2"/>
<rect x="771.78" y="438.44" width="7.30" height="7.30" rx="0.9" fill="#fff" stroke="#d9e2d6" stroke-width="1.2"/>
<rect x="790.10" y="438.44" width="7.30" height="7.30" rx="0.9" fill="#fff" stroke="#d9e2d6" stroke-width="1.2"/>
<rect x="808.42" y="438.44" width="7.30" height="7.30" rx="0.9" fill="#fff" stroke="#d9e2d6" stroke-width="1.2"/>
<rect x="830.25" y="438.44" width="7.30" height="7.30" rx="0.9" fill="#fff" stroke="#e8dfe7" stroke-width="1.2"/>
<rect x="848.57" y="438.44" width="7.30" height="7.30" rx="0.9" fill="#fff" stroke="#e8dfe7" stroke-width="1.2"/>
<rect x="866.89" y="438.44" width="7.30" height="7.30" rx="0.9" fill="#fff" stroke="#e8dfe7" stroke-width="1.2"/>
<rect x="885.21" y="438.44" width="7.30" height="7.30" rx="0.9" fill="#fff" stroke="#e8dfe7" stroke-width="1.2"/>
<rect x="903.53" y="438.44" width="7.30" height="7.30" rx="0.9" fill="#fff" stroke="#e8dfe7" stroke-width="1.2"/>
<rect x="921.85" y="438.44" width="7.30" height="7.30" rx="0.9" fill="#fff" stroke="#e8dfe7" stroke-width="1.2"/>
<rect x="940.17" y="438.44" width="7.30" height="7.30" rx="0.9" fill="#fff" stroke="#e8dfe7" stroke-width="1.2"/>
<rect x="962.00" y="438.44" width="7.30" height="7.30" rx="0.9" fill="#fff" stroke="#efcbc3" stroke-width="1.2"/>
<rect x="980.32" y="438.44" width="7.30" height="7.30" rx="0.9" fill="#fff" stroke="#efcbc3" stroke-width="1.2"/>
<rect x="998.64" y="438.44" width="7.30" height="7.30" rx="0.9" fill="#fff" stroke="#efcbc3" stroke-width="1.2"/>
<rect x="1016.96" y="438.44" width="7.30" height="7.30" rx="0.9" fill="#fff" stroke="#efcbc3" stroke-width="1.2"/>
<rect x="1035.28" y="438.44" width="7.30" height="7.30" rx="0.9" fill="#fff" stroke="#efcbc3" stroke-width="1.2"/>
<rect x="1053.60" y="438.44" width="7.30" height="7.30" rx="0.9" fill="#fff" stroke="#efcbc3" stroke-width="1.2"/>
<rect x="1071.92" y="438.44" width="7.30" height="7.30" rx="0.9" fill="#fff" stroke="#efcbc3" stroke-width="1.2"/>
<rect x="1093.75" y="438.44" width="7.30" height="7.30" rx="0.9" fill="#fff" stroke="#dda79d" stroke-width="1.2"/>
<rect x="1112.07" y="438.44" width="7.30" height="7.30" rx="0.9" fill="#fff" stroke="#dda79d" stroke-width="1.2"/>
<rect x="1130.39" y="438.44" width="7.30" height="7.30" rx="0.9" fill="#fff" stroke="#dda79d" stroke-width="1.2"/>
<rect x="566.75" y="450.11" width="7.30" height="7.30" rx="0.9" fill="#fff" stroke="#b7c8b2" stroke-width="1.2"/>
<rect x="585.07" y="450.11" width="7.30" height="7.30" rx="0.9" fill="#fff" stroke="#b7c8b2" stroke-width="1.2"/>
<rect x="603.39" y="450.11" width="7.30" height="7.30" rx="0.9" fill="#fff" stroke="#b7c8b2" stroke-width="1.2"/>
<rect x="621.71" y="450.11" width="7.30" height="7.30" rx="0.9" fill="#fff" stroke="#b7c8b2" stroke-width="1.2"/>
<rect x="640.03" y="450.11" width="7.30" height="7.30" rx="0.9" fill="#fff" stroke="#b7c8b2" stroke-width="1.2"/>
<rect x="658.35" y="450.11" width="7.30" height="7.30" rx="0.9" fill="#fff" stroke="#b7c8b2" stroke-width="1.2"/>
<rect x="676.67" y="450.11" width="7.30" height="7.30" rx="0.9" fill="#fff" stroke="#b7c8b2" stroke-width="1.2"/>
<rect x="698.50" y="450.11" width="7.30" height="7.30" rx="0.9" fill="#fff" stroke="#d9e2d6" stroke-width="1.2"/>
<rect x="716.82" y="450.11" width="7.30" height="7.30" rx="0.9" fill="#fff" stroke="#d9e2d6" stroke-width="1.2"/>
<rect x="735.14" y="450.11" width="7.30" height="7.30" rx="0.9" fill="#fff" stroke="#d9e2d6" stroke-width="1.2"/>
<rect x="753.46" y="450.11" width="7.30" height="7.30" rx="0.9" fill="#fff" stroke="#d9e2d6" stroke-width="1.2"/>
<rect x="771.78" y="450.11" width="7.30" height="7.30" rx="0.9" fill="#fff" stroke="#d9e2d6" stroke-width="1.2"/>
<rect x="790.10" y="450.11" width="7.30" height="7.30" rx="0.9" fill="#fff" stroke="#d9e2d6" stroke-width="1.2"/>
<rect x="808.42" y="450.11" width="7.30" height="7.30" rx="0.9" fill="#fff" stroke="#d9e2d6" stroke-width="1.2"/>
<rect x="830.25" y="450.11" width="7.30" height="7.30" rx="0.9" fill="#fff" stroke="#e8dfe7" stroke-width="1.2"/>
<rect x="848.57" y="450.11" width="7.30" height="7.30" rx="0.9" fill="#fff" stroke="#e8dfe7" stroke-width="1.2"/>
<rect x="866.89" y="450.11" width="7.30" height="7.30" rx="0.9" fill="#fff" stroke="#e8dfe7" stroke-width="1.2"/>
<rect x="885.21" y="450.11" width="7.30" height="7.30" rx="0.9" fill="#fff" stroke="#e8dfe7" stroke-width="1.2"/>
<rect x="903.53" y="450.11" width="7.30" height="7.30" rx="0.9" fill="#fff" stroke="#e8dfe7" stroke-width="1.2"/>
<rect x="921.85" y="450.11" width="7.30" height="7.30" rx="0.9" fill="#fff" stroke="#e8dfe7" stroke-width="1.2"/>
<rect x="940.17" y="450.11" width="7.30" height="7.30" rx="0.9" fill="#fff" stroke="#e8dfe7" stroke-width="1.2"/>
<rect x="962.00" y="450.11" width="7.30" height="7.30" rx="0.9" fill="#fff" stroke="#efcbc3" stroke-width="1.2"/>
<rect x="980.32" y="450.11" width="7.30" height="7.30" rx="0.9" fill="#fff" stroke="#efcbc3" stroke-width="1.2"/>
<rect x="998.64" y="450.11" width="7.30" height="7.30" rx="0.9" fill="#fff" stroke="#efcbc3" stroke-width="1.2"/>
<rect x="1016.96" y="450.11" width="7.30" height="7.30" rx="0.9" fill="#fff" stroke="#efcbc3" stroke-width="1.2"/>
<rect x="1035.28" y="450.11" width="7.30" height="7.30" rx="0.9" fill="#fff" stroke="#efcbc3" stroke-width="1.2"/>
<rect x="1053.60" y="450.11" width="7.30" height="7.30" rx="0.9" fill="#fff" stroke="#efcbc3" stroke-width="1.2"/>
<rect x="1071.92" y="450.11" width="7.30" height="7.30" rx="0.9" fill="#fff" stroke="#efcbc3" stroke-width="1.2"/>
<rect x="1093.75" y="450.11" width="7.30" height="7.30" rx="0.9" fill="#fff" stroke="#dda79d" stroke-width="1.2"/>
<rect x="1112.07" y="450.11" width="7.30" height="7.30" rx="0.9" fill="#fff" stroke="#dda79d" stroke-width="1.2"/>
<rect x="1130.39" y="450.11" width="7.30" height="7.30" rx="0.9" fill="#fff" stroke="#dda79d" stroke-width="1.2"/>
<rect x="566.75" y="461.77" width="7.30" height="7.30" rx="0.9" fill="#fff" stroke="#b7c8b2" stroke-width="1.2"/>
<rect x="585.07" y="461.77" width="7.30" height="7.30" rx="0.9" fill="#fff" stroke="#b7c8b2" stroke-width="1.2"/>
<rect x="603.39" y="461.77" width="7.30" height="7.30" rx="0.9" fill="#fff" stroke="#b7c8b2" stroke-width="1.2"/>
<rect x="621.71" y="461.77" width="7.30" height="7.30" rx="0.9" fill="#fff" stroke="#b7c8b2" stroke-width="1.2"/>
<rect x="640.03" y="461.77" width="7.30" height="7.30" rx="0.9" fill="#fff" stroke="#b7c8b2" stroke-width="1.2"/>
<rect x="658.35" y="461.77" width="7.30" height="7.30" rx="0.9" fill="#fff" stroke="#b7c8b2" stroke-width="1.2"/>
<rect x="676.67" y="461.77" width="7.30" height="7.30" rx="0.9" fill="#fff" stroke="#b7c8b2" stroke-width="1.2"/>
<rect x="698.50" y="461.77" width="7.30" height="7.30" rx="0.9" fill="#fff" stroke="#d9e2d6" stroke-width="1.2"/>
<rect x="716.82" y="461.77" width="7.30" height="7.30" rx="0.9" fill="#fff" stroke="#d9e2d6" stroke-width="1.2"/>
<rect x="735.14" y="461.77" width="7.30" height="7.30" rx="0.9" fill="#fff" stroke="#d9e2d6" stroke-width="1.2"/>
<rect x="753.46" y="461.77" width="7.30" height="7.30" rx="0.9" fill="#fff" stroke="#d9e2d6" stroke-width="1.2"/>
<rect x="771.78" y="461.77" width="7.30" height="7.30" rx="0.9" fill="#fff" stroke="#d9e2d6" stroke-width="1.2"/>
<rect x="790.10" y="461.77" width="7.30" height="7.30" rx="0.9" fill="#fff" stroke="#d9e2d6" stroke-width="1.2"/>
<rect x="808.42" y="461.77" width="7.30" height="7.30" rx="0.9" fill="#fff" stroke="#d9e2d6" stroke-width="1.2"/>
<rect x="830.25" y="461.77" width="7.30" height="7.30" rx="0.9" fill="#fff" stroke="#e8dfe7" stroke-width="1.2"/>
<rect x="848.57" y="461.77" width="7.30" height="7.30" rx="0.9" fill="#fff" stroke="#e8dfe7" stroke-width="1.2"/>
<rect x="866.89" y="461.77" width="7.30" height="7.30" rx="0.9" fill="#fff" stroke="#e8dfe7" stroke-width="1.2"/>
<rect x="885.21" y="461.77" width="7.30" height="7.30" rx="0.9" fill="#fff" stroke="#e8dfe7" stroke-width="1.2"/>
<rect x="903.53" y="461.77" width="7.30" height="7.30" rx="0.9" fill="#fff" stroke="#e8dfe7" stroke-width="1.2"/>
<rect x="921.85" y="461.77" width="7.30" height="7.30" rx="0.9" fill="#fff" stroke="#e8dfe7" stroke-width="1.2"/>
<rect x="940.17" y="461.77" width="7.30" height="7.30" rx="0.9" fill="#fff" stroke="#e8dfe7" stroke-width="1.2"/>
<rect x="962.00" y="461.77" width="7.30" height="7.30" rx="0.9" fill="#fff" stroke="#efcbc3" stroke-width="1.2"/>
<rect x="980.32" y="461.77" width="7.30" height="7.30" rx="0.9" fill="#fff" stroke="#efcbc3" stroke-width="1.2"/>
<rect x="998.64" y="461.77" width="7.30" height="7.30" rx="0.9" fill="#fff" stroke="#efcbc3" stroke-width="1.2"/>
<rect x="1016.96" y="461.77" width="7.30" height="7.30" rx="0.9" fill="#fff" stroke="#efcbc3" stroke-width="1.2"/>
<rect x="1035.28" y="461.77" width="7.30" height="7.30" rx="0.9" fill="#fff" stroke="#efcbc3" stroke-width="1.2"/>
<rect x="1053.60" y="461.77" width="7.30" height="7.30" rx="0.9" fill="#fff" stroke="#efcbc3" stroke-width="1.2"/>
<rect x="1071.92" y="461.77" width="7.30" height="7.30" rx="0.9" fill="#fff" stroke="#efcbc3" stroke-width="1.2"/>
<rect x="1093.75" y="461.77" width="7.30" height="7.30" rx="0.9" fill="#fff" stroke="#dda79d" stroke-width="1.2"/>
<rect x="1112.07" y="461.77" width="7.30" height="7.30" rx="0.9" fill="#fff" stroke="#dda79d" stroke-width="1.2"/>
<rect x="1130.39" y="461.77" width="7.30" height="7.30" rx="0.9" fill="#fff" stroke="#dda79d" stroke-width="1.2"/>
<rect x="566.75" y="473.44" width="7.30" height="7.30" rx="0.9" fill="#fff" stroke="#b7c8b2" stroke-width="1.2"/>
<rect x="585.07" y="473.44" width="7.30" height="7.30" rx="0.9" fill="#fff" stroke="#b7c8b2" stroke-width="1.2"/>
<rect x="603.39" y="473.44" width="7.30" height="7.30" rx="0.9" fill="#fff" stroke="#b7c8b2" stroke-width="1.2"/>
<rect x="621.71" y="473.44" width="7.30" height="7.30" rx="0.9" fill="#fff" stroke="#b7c8b2" stroke-width="1.2"/>
<rect x="640.03" y="473.44" width="7.30" height="7.30" rx="0.9" fill="#fff" stroke="#b7c8b2" stroke-width="1.2"/>
<rect x="658.35" y="473.44" width="7.30" height="7.30" rx="0.9" fill="#fff" stroke="#b7c8b2" stroke-width="1.2"/>
<rect x="676.67" y="473.44" width="7.30" height="7.30" rx="0.9" fill="#fff" stroke="#b7c8b2" stroke-width="1.2"/>
<rect x="698.50" y="473.44" width="7.30" height="7.30" rx="0.9" fill="#fff" stroke="#d9e2d6" stroke-width="1.2"/>
<rect x="716.82" y="473.44" width="7.30" height="7.30" rx="0.9" fill="#fff" stroke="#d9e2d6" stroke-width="1.2"/>
<rect x="735.14" y="473.44" width="7.30" height="7.30" rx="0.9" fill="#fff" stroke="#d9e2d6" stroke-width="1.2"/>
<rect x="753.46" y="473.44" width="7.30" height="7.30" rx="0.9" fill="#fff" stroke="#d9e2d6" stroke-width="1.2"/>
<rect x="771.78" y="473.44" width="7.30" height="7.30" rx="0.9" fill="#fff" stroke="#d9e2d6" stroke-width="1.2"/>
<rect x="790.10" y="473.44" width="7.30" height="7.30" rx="0.9" fill="#fff" stroke="#d9e2d6" stroke-width="1.2"/>
<rect x="808.42" y="473.44" width="7.30" height="7.30" rx="0.9" fill="#fff" stroke="#d9e2d6" stroke-width="1.2"/>
<rect x="830.25" y="473.44" width="7.30" height="7.30" rx="0.9" fill="#fff" stroke="#e8dfe7" stroke-width="1.2"/>
<rect x="848.57" y="473.44" width="7.30" height="7.30" rx="0.9" fill="#fff" stroke="#e8dfe7" stroke-width="1.2"/>
<rect x="866.89" y="473.44" width="7.30" height="7.30" rx="0.9" fill="#fff" stroke="#e8dfe7" stroke-width="1.2"/>
<rect x="885.21" y="473.44" width="7.30" height="7.30" rx="0.9" fill="#fff" stroke="#e8dfe7" stroke-width="1.2"/>
<rect x="903.53" y="473.44" width="7.30" height="7.30" rx="0.9" fill="#fff" stroke="#e8dfe7" stroke-width="1.2"/>
<rect x="921.85" y="473.44" width="7.30" height="7.30" rx="0.9" fill="#fff" stroke="#e8dfe7" stroke-width="1.2"/>
<rect x="940.17" y="473.44" width="7.30" height="7.30" rx="0.9" fill="#fff" stroke="#e8dfe7" stroke-width="1.2"/>
<rect x="962.00" y="473.44" width="7.30" height="7.30" rx="0.9" fill="#fff" stroke="#efcbc3" stroke-width="1.2"/>
<rect x="980.32" y="473.44" width="7.30" height="7.30" rx="0.9" fill="#fff" stroke="#efcbc3" stroke-width="1.2"/>
<rect x="998.64" y="473.44" width="7.30" height="7.30" rx="0.9" fill="#fff" stroke="#efcbc3" stroke-width="1.2"/>
<rect x="1016.96" y="473.44" width="7.30" height="7.30" rx="0.9" fill="#fff" stroke="#efcbc3" stroke-width="1.2"/>
<rect x="1035.28" y="473.44" width="7.30" height="7.30" rx="0.9" fill="#fff" stroke="#efcbc3" stroke-width="1.2"/>
<rect x="1053.60" y="473.44" width="7.30" height="7.30" rx="0.9" fill="#fff" stroke="#efcbc3" stroke-width="1.2"/>
<rect x="1071.92" y="473.44" width="7.30" height="7.30" rx="0.9" fill="#fff" stroke="#efcbc3" stroke-width="1.2"/>
<rect x="1093.75" y="473.44" width="7.30" height="7.30" rx="0.9" fill="#fff" stroke="#dda79d" stroke-width="1.2"/>
<rect x="1112.07" y="473.44" width="7.30" height="7.30" rx="0.9" fill="#fff" stroke="#dda79d" stroke-width="1.2"/>
<rect x="1130.39" y="473.44" width="7.30" height="7.30" rx="0.9" fill="#fff" stroke="#dda79d" stroke-width="1.2"/>
<rect x="566.75" y="485.10" width="7.30" height="7.30" rx="0.9" fill="#fff" stroke="#b7c8b2" stroke-width="1.2"/>
<rect x="585.07" y="485.10" width="7.30" height="7.30" rx="0.9" fill="#fff" stroke="#b7c8b2" stroke-width="1.2"/>
<rect x="603.39" y="485.10" width="7.30" height="7.30" rx="0.9" fill="#fff" stroke="#b7c8b2" stroke-width="1.2"/>
<rect x="621.71" y="485.10" width="7.30" height="7.30" rx="0.9" fill="#fff" stroke="#b7c8b2" stroke-width="1.2"/>
<rect x="640.03" y="485.10" width="7.30" height="7.30" rx="0.9" fill="#fff" stroke="#b7c8b2" stroke-width="1.2"/>
<rect x="658.35" y="485.10" width="7.30" height="7.30" rx="0.9" fill="#fff" stroke="#b7c8b2" stroke-width="1.2"/>
<rect x="676.67" y="485.10" width="7.30" height="7.30" rx="0.9" fill="#fff" stroke="#b7c8b2" stroke-width="1.2"/>
<rect x="698.50" y="485.10" width="7.30" height="7.30" rx="0.9" fill="#fff" stroke="#d9e2d6" stroke-width="1.2"/>
<rect x="716.82" y="485.10" width="7.30" height="7.30" rx="0.9" fill="#fff" stroke="#d9e2d6" stroke-width="1.2"/>
<rect x="735.14" y="485.10" width="7.30" height="7.30" rx="0.9" fill="#fff" stroke="#d9e2d6" stroke-width="1.2"/>
<rect x="753.46" y="485.10" width="7.30" height="7.30" rx="0.9" fill="#fff" stroke="#d9e2d6" stroke-width="1.2"/>
<rect x="771.78" y="485.10" width="7.30" height="7.30" rx="0.9" fill="#fff" stroke="#d9e2d6" stroke-width="1.2"/>
<rect x="790.10" y="485.10" width="7.30" height="7.30" rx="0.9" fill="#fff" stroke="#d9e2d6" stroke-width="1.2"/>
<rect x="808.42" y="485.10" width="7.30" height="7.30" rx="0.9" fill="#fff" stroke="#d9e2d6" stroke-width="1.2"/>
<rect x="830.25" y="485.10" width="7.30" height="7.30" rx="0.9" fill="#fff" stroke="#e8dfe7" stroke-width="1.2"/>
<rect x="848.57" y="485.10" width="7.30" height="7.30" rx="0.9" fill="#fff" stroke="#e8dfe7" stroke-width="1.2"/>
<rect x="866.89" y="485.10" width="7.30" height="7.30" rx="0.9" fill="#fff" stroke="#e8dfe7" stroke-width="1.2"/>
<rect x="885.21" y="485.10" width="7.30" height="7.30" rx="0.9" fill="#fff" stroke="#e8dfe7" stroke-width="1.2"/>
<rect x="903.53" y="485.10" width="7.30" height="7.30" rx="0.9" fill="#fff" stroke="#e8dfe7" stroke-width="1.2"/>
<rect x="921.85" y="485.10" width="7.30" height="7.30" rx="0.9" fill="#fff" stroke="#e8dfe7" stroke-width="1.2"/>
<rect x="940.17" y="485.10" width="7.30" height="7.30" rx="0.9" fill="#fff" stroke="#e8dfe7" stroke-width="1.2"/>
<rect x="962.00" y="485.10" width="7.30" height="7.30" rx="0.9" fill="#fff" stroke="#efcbc3" stroke-width="1.2"/>
<rect x="980.32" y="485.10" width="7.30" height="7.30" rx="0.9" fill="#fff" stroke="#efcbc3" stroke-width="1.2"/>
<rect x="998.64" y="485.10" width="7.30" height="7.30" rx="0.9" fill="#fff" stroke="#efcbc3" stroke-width="1.2"/>
<rect x="1016.96" y="485.10" width="7.30" height="7.30" rx="0.9" fill="#fff" stroke="#efcbc3" stroke-width="1.2"/>
<rect x="1035.28" y="485.10" width="7.30" height="7.30" rx="0.9" fill="#fff" stroke="#efcbc3" stroke-width="1.2"/>
<rect x="1053.60" y="485.10" width="7.30" height="7.30" rx="0.9" fill="#fff" stroke="#efcbc3" stroke-width="1.2"/>
<rect x="1071.92" y="485.10" width="7.30" height="7.30" rx="0.9" fill="#fff" stroke="#efcbc3" stroke-width="1.2"/>
<rect x="1093.75" y="485.10" width="7.30" height="7.30" rx="0.9" fill="#fff" stroke="#dda79d" stroke-width="1.2"/>
<rect x="1112.07" y="485.10" width="7.30" height="7.30" rx="0.9" fill="#fff" stroke="#dda79d" stroke-width="1.2"/>
<rect x="1130.39" y="485.10" width="7.30" height="7.30" rx="0.9" fill="#fff" stroke="#dda79d" stroke-width="1.2"/>
<rect x="566.75" y="496.77" width="7.30" height="7.30" rx="0.9" fill="#fff" stroke="#b7c8b2" stroke-width="1.2"/>
<rect x="585.07" y="496.77" width="7.30" height="7.30" rx="0.9" fill="#fff" stroke="#b7c8b2" stroke-width="1.2"/>
<rect x="603.39" y="496.77" width="7.30" height="7.30" rx="0.9" fill="#fff" stroke="#b7c8b2" stroke-width="1.2"/>
<rect x="621.71" y="496.77" width="7.30" height="7.30" rx="0.9" fill="#fff" stroke="#b7c8b2" stroke-width="1.2"/>
<rect x="640.03" y="496.77" width="7.30" height="7.30" rx="0.9" fill="#fff" stroke="#b7c8b2" stroke-width="1.2"/>
<rect x="658.35" y="496.77" width="7.30" height="7.30" rx="0.9" fill="#fff" stroke="#b7c8b2" stroke-width="1.2"/>
<rect x="676.67" y="496.77" width="7.30" height="7.30" rx="0.9" fill="#fff" stroke="#b7c8b2" stroke-width="1.2"/>
<rect x="698.50" y="496.77" width="7.30" height="7.30" rx="0.9" fill="#fff" stroke="#d9e2d6" stroke-width="1.2"/>
<rect x="716.82" y="496.77" width="7.30" height="7.30" rx="0.9" fill="#fff" stroke="#d9e2d6" stroke-width="1.2"/>
<rect x="735.14" y="496.77" width="7.30" height="7.30" rx="0.9" fill="#fff" stroke="#d9e2d6" stroke-width="1.2"/>
<rect x="753.46" y="496.77" width="7.30" height="7.30" rx="0.9" fill="#fff" stroke="#d9e2d6" stroke-width="1.2"/>
<rect x="771.78" y="496.77" width="7.30" height="7.30" rx="0.9" fill="#fff" stroke="#d9e2d6" stroke-width="1.2"/>
<rect x="790.10" y="496.77" width="7.30" height="7.30" rx="0.9" fill="#fff" stroke="#d9e2d6" stroke-width="1.2"/>
<rect x="808.42" y="496.77" width="7.30" height="7.30" rx="0.9" fill="#fff" stroke="#d9e2d6" stroke-width="1.2"/>
<rect x="830.25" y="496.77" width="7.30" height="7.30" rx="0.9" fill="#fff" stroke="#e8dfe7" stroke-width="1.2"/>
<rect x="848.57" y="496.77" width="7.30" height="7.30" rx="0.9" fill="#fff" stroke="#e8dfe7" stroke-width="1.2"/>
<rect x="866.89" y="496.77" width="7.30" height="7.30" rx="0.9" fill="#fff" stroke="#e8dfe7" stroke-width="1.2"/>
<rect x="885.21" y="496.77" width="7.30" height="7.30" rx="0.9" fill="#fff" stroke="#e8dfe7" stroke-width="1.2"/>
<rect x="903.53" y="496.77" width="7.30" height="7.30" rx="0.9" fill="#fff" stroke="#e8dfe7" stroke-width="1.2"/>
<rect x="921.85" y="496.77" width="7.30" height="7.30" rx="0.9" fill="#fff" stroke="#e8dfe7" stroke-width="1.2"/>
<rect x="940.17" y="496.77" width="7.30" height="7.30" rx="0.9" fill="#fff" stroke="#e8dfe7" stroke-width="1.2"/>
<rect x="962.00" y="496.77" width="7.30" height="7.30" rx="0.9" fill="#fff" stroke="#efcbc3" stroke-width="1.2"/>
<rect x="980.32" y="496.77" width="7.30" height="7.30" rx="0.9" fill="#fff" stroke="#efcbc3" stroke-width="1.2"/>
<rect x="998.64" y="496.77" width="7.30" height="7.30" rx="0.9" fill="#fff" stroke="#efcbc3" stroke-width="1.2"/>
<rect x="1016.96" y="496.77" width="7.30" height="7.30" rx="0.9" fill="#fff" stroke="#efcbc3" stroke-width="1.2"/>
<rect x="1035.28" y="496.77" width="7.30" height="7.30" rx="0.9" fill="#fff" stroke="#efcbc3" stroke-width="1.2"/>
<rect x="1053.60" y="496.77" width="7.30" height="7.30" rx="0.9" fill="#fff" stroke="#efcbc3" stroke-width="1.2"/>
<rect x="1071.92" y="496.77" width="7.30" height="7.30" rx="0.9" fill="#fff" stroke="#efcbc3" stroke-width="1.2"/>
<rect x="1093.75" y="496.77" width="7.30" height="7.30" rx="0.9" fill="#fff" stroke="#dda79d" stroke-width="1.2"/>
<rect x="1112.07" y="496.77" width="7.30" height="7.30" rx="0.9" fill="#fff" stroke="#dda79d" stroke-width="1.2"/>
<rect x="1130.39" y="496.77" width="7.30" height="7.30" rx="0.9" fill="#fff" stroke="#dda79d" stroke-width="1.2"/>
<rect x="1161.60" y="295.50" width="36.70" height="70.90" fill="#ececec" />
<text transform="translate(1173.3,330.2) rotate(-90)" font-size="6.8" fill="#333" text-anchor="middle" textLength="15" lengthAdjust="spacingAndGlyphs">Goal</text>
<text transform="translate(1191.6,330.2) rotate(-90)" font-size="6.8" fill="#333" text-anchor="middle" textLength="21" lengthAdjust="spacingAndGlyphs">Actual</text>
<line x1="1161.60" y1="366.40" x2="1198.30" y2="366.40" stroke="#e3e3e3" stroke-width="0.8"/>
<line x1="1161.60" y1="378.05" x2="1198.30" y2="378.05" stroke="#e3e3e3" stroke-width="0.8"/>
<line x1="1161.60" y1="389.70" x2="1198.30" y2="389.70" stroke="#e3e3e3" stroke-width="0.8"/>
<line x1="1161.60" y1="401.35" x2="1198.30" y2="401.35" stroke="#e3e3e3" stroke-width="0.8"/>
<line x1="1161.60" y1="413.00" x2="1198.30" y2="413.00" stroke="#e3e3e3" stroke-width="0.8"/>
<line x1="1161.60" y1="424.65" x2="1198.30" y2="424.65" stroke="#e3e3e3" stroke-width="0.8"/>
<line x1="1161.60" y1="436.30" x2="1198.30" y2="436.30" stroke="#e3e3e3" stroke-width="0.8"/>
<line x1="1161.60" y1="447.95" x2="1198.30" y2="447.95" stroke="#e3e3e3" stroke-width="0.8"/>
<line x1="1161.60" y1="459.60" x2="1198.30" y2="459.60" stroke="#e3e3e3" stroke-width="0.8"/>
<line x1="1161.60" y1="471.25" x2="1198.30" y2="471.25" stroke="#e3e3e3" stroke-width="0.8"/>
<line x1="1161.60" y1="482.90" x2="1198.30" y2="482.90" stroke="#e3e3e3" stroke-width="0.8"/>
<line x1="1161.60" y1="494.55" x2="1198.30" y2="494.55" stroke="#e3e3e3" stroke-width="0.8"/>
<line x1="1161.60" y1="506.20" x2="1198.30" y2="506.20" stroke="#e3e3e3" stroke-width="0.8"/>
<line x1="1161.90" y1="366.40" x2="1161.90" y2="506.20" stroke="#e3e3e3" stroke-width="0.8"/>
<line x1="1179.80" y1="366.40" x2="1179.80" y2="506.20" stroke="#e3e3e3" stroke-width="0.8"/>
<line x1="1198.00" y1="366.40" x2="1198.00" y2="506.20" stroke="#e3e3e3" stroke-width="0.8"/>
<text x="1188.70" y="374.30" font-size="5.8" fill="#333" text-anchor="middle" font-weight="bold"  stroke="#333" stroke-width=".22">31</text>
<text x="1188.70" y="385.97" font-size="5.8" fill="#333" text-anchor="middle" font-weight="bold"  stroke="#333" stroke-width=".22">17</text>
<text x="1188.70" y="397.63" font-size="5.8" fill="#333" text-anchor="middle" font-weight="bold"  stroke="#333" stroke-width=".22">21</text>
<text x="1188.70" y="409.30" font-size="5.8" fill="#333" text-anchor="middle" font-weight="bold"  stroke="#333" stroke-width=".22">18</text>
<text x="1188.70" y="420.96" font-size="5.8" fill="#333" text-anchor="middle" font-weight="bold"  stroke="#333" stroke-width=".22">18</text>
<text x="1188.70" y="432.62" font-size="5.8" fill="#333" text-anchor="middle" font-weight="bold"  stroke="#333" stroke-width=".22">0</text>
<text x="1188.70" y="444.29" font-size="5.8" fill="#333" text-anchor="middle" font-weight="bold"  stroke="#333" stroke-width=".22">0</text>
<text x="1188.70" y="455.96" font-size="5.8" fill="#333" text-anchor="middle" font-weight="bold"  stroke="#333" stroke-width=".22">0</text>
<text x="1188.70" y="467.62" font-size="5.8" fill="#333" text-anchor="middle" font-weight="bold"  stroke="#333" stroke-width=".22">0</text>
<text x="1188.70" y="479.28" font-size="5.8" fill="#333" text-anchor="middle" font-weight="bold"  stroke="#333" stroke-width=".22">0</text>
<text x="1188.70" y="490.95" font-size="5.8" fill="#333" text-anchor="middle" font-weight="bold"  stroke="#333" stroke-width=".22">0</text>
<text x="1188.70" y="502.62" font-size="5.8" fill="#333" text-anchor="middle" font-weight="bold"  stroke="#333" stroke-width=".22">0</text>
<rect x="429.50" y="529.50" width="731.80" height="11.90" fill="#ececec" />
<text x="795.50" y="537.60" font-size="5.8" fill="#111" text-anchor="middle" font-weight="bold" textLength="81.0" lengthAdjust="spacingAndGlyphs"  stroke="#111" stroke-width=".22">MONTHLY SUMMARY</text>
<path d="M459.40,602.40 C463.22,602.40 474.69,607.50 482.33,602.40 C489.97,597.30 497.62,569.25 505.26,571.80 C512.90,574.35 520.55,617.70 528.19,617.70 C535.83,617.70 543.48,574.35 551.12,571.80 C558.76,569.25 566.41,594.75 574.05,602.40 C581.69,610.05 589.34,622.80 596.98,617.70 C604.62,612.60 612.27,576.90 619.91,571.80 C627.55,566.70 635.20,579.45 642.84,587.10 C650.48,594.75 658.13,617.70 665.77,617.70 C673.41,617.70 681.06,589.65 688.70,587.10 C696.34,584.55 703.99,602.40 711.63,602.40 C719.27,602.40 726.92,589.65 734.56,587.10 C742.20,584.55 749.85,587.10 757.49,587.10 C765.13,587.10 772.78,589.65 780.42,587.10 C788.06,584.55 795.71,569.25 803.35,571.80 C810.99,574.35 818.64,599.85 826.28,602.40 C833.92,604.95 841.57,587.10 849.21,587.10 C856.85,587.10 864.50,604.95 872.14,602.40 C879.78,599.85 887.43,571.80 895.07,571.80 C902.71,571.80 910.36,594.75 918.00,602.40 C925.64,610.05 933.29,612.60 940.93,617.70 C948.57,622.80 956.22,638.10 963.86,633.00 C971.50,627.90 979.15,592.20 986.79,587.10 C994.43,582.00 1002.08,602.40 1009.72,602.40 C1017.36,602.40 1025.01,587.10 1032.65,587.10 C1040.29,587.10 1047.94,604.95 1055.58,602.40 C1063.22,599.85 1070.87,571.80 1078.51,571.80 C1086.15,571.80 1093.80,592.20 1101.44,602.40 C1109.08,612.60 1116.73,633.00 1124.37,633.00 C1132.01,633.00 1143.48,607.50 1147.30,602.40 L1147.30,648.3 L459.40,648.3 Z" fill="#e2e9df"/>
<path d="M459.40,602.40 C463.22,602.40 474.69,607.50 482.33,602.40 C489.97,597.30 497.62,569.25 505.26,571.80 C512.90,574.35 520.55,617.70 528.19,617.70 C535.83,617.70 543.48,574.35 551.12,571.80 C558.76,569.25 566.41,594.75 574.05,602.40 C581.69,610.05 589.34,622.80 596.98,617.70 C604.62,612.60 612.27,576.90 619.91,571.80 C627.55,566.70 635.20,579.45 642.84,587.10 C650.48,594.75 658.13,617.70 665.77,617.70 C673.41,617.70 681.06,589.65 688.70,587.10 C696.34,584.55 703.99,602.40 711.63,602.40 C719.27,602.40 726.92,589.65 734.56,587.10 C742.20,584.55 749.85,587.10 757.49,587.10 C765.13,587.10 772.78,589.65 780.42,587.10 C788.06,584.55 795.71,569.25 803.35,571.80 C810.99,574.35 818.64,599.85 826.28,602.40 C833.92,604.95 841.57,587.10 849.21,587.10 C856.85,587.10 864.50,604.95 872.14,602.40 C879.78,599.85 887.43,571.80 895.07,571.80 C902.71,571.80 910.36,594.75 918.00,602.40 C925.64,610.05 933.29,612.60 940.93,617.70 C948.57,622.80 956.22,638.10 963.86,633.00 C971.50,627.90 979.15,592.20 986.79,587.10 C994.43,582.00 1002.08,602.40 1009.72,602.40 C1017.36,602.40 1025.01,587.10 1032.65,587.10 C1040.29,587.10 1047.94,604.95 1055.58,602.40 C1063.22,599.85 1070.87,571.80 1078.51,571.80 C1086.15,571.80 1093.80,592.20 1101.44,602.40 C1109.08,612.60 1116.73,633.00 1124.37,633.00 C1132.01,633.00 1143.48,607.50 1147.30,602.40" fill="none" stroke="#b9c9b4" stroke-width="1.1"/>
<path d="M456.60,602.40 L459.40,600.10 L462.20,602.40 L459.40,604.70 Z" fill="#b3c5ae"/>
<line x1="459.40" y1="599.40" x2="459.40" y2="593.40" stroke="#e4e9e2" stroke-width="0.6"/>
<text x="459.40" y="592.10" font-size="5.3" fill="#b9c6b5" text-anchor="middle" font-weight="normal" textLength="11.5" lengthAdjust="spacingAndGlyphs" >60%</text>
<path d="M479.53,602.40 L482.33,600.10 L485.13,602.40 L482.33,604.70 Z" fill="#b3c5ae"/>
<line x1="482.33" y1="599.40" x2="482.33" y2="593.40" stroke="#e4e9e2" stroke-width="0.6"/>
<text x="482.33" y="592.10" font-size="5.3" fill="#b9c6b5" text-anchor="middle" font-weight="normal" textLength="11.5" lengthAdjust="spacingAndGlyphs" >60%</text>
<path d="M502.46,571.80 L505.26,569.50 L508.06,571.80 L505.26,574.10 Z" fill="#b3c5ae"/>
<line x1="505.26" y1="568.80" x2="505.26" y2="562.80" stroke="#e4e9e2" stroke-width="0.6"/>
<text x="505.26" y="561.50" font-size="5.3" fill="#b9c6b5" text-anchor="middle" font-weight="normal" textLength="14.0" lengthAdjust="spacingAndGlyphs" >100%</text>
<path d="M525.39,617.70 L528.19,615.40 L530.99,617.70 L528.19,620.00 Z" fill="#b3c5ae"/>
<line x1="528.19" y1="614.70" x2="528.19" y2="608.70" stroke="#e4e9e2" stroke-width="0.6"/>
<text x="528.19" y="607.40" font-size="5.3" fill="#b9c6b5" text-anchor="middle" font-weight="normal" textLength="11.5" lengthAdjust="spacingAndGlyphs" >40%</text>
<path d="M548.32,571.80 L551.12,569.50 L553.92,571.80 L551.12,574.10 Z" fill="#b3c5ae"/>
<line x1="551.12" y1="568.80" x2="551.12" y2="562.80" stroke="#e4e9e2" stroke-width="0.6"/>
<text x="551.12" y="561.50" font-size="5.3" fill="#b9c6b5" text-anchor="middle" font-weight="normal" textLength="14.0" lengthAdjust="spacingAndGlyphs" >100%</text>
<path d="M571.25,602.40 L574.05,600.10 L576.85,602.40 L574.05,604.70 Z" fill="#b3c5ae"/>
<line x1="574.05" y1="599.40" x2="574.05" y2="593.40" stroke="#e4e9e2" stroke-width="0.6"/>
<text x="574.05" y="592.10" font-size="5.3" fill="#b9c6b5" text-anchor="middle" font-weight="normal" textLength="11.5" lengthAdjust="spacingAndGlyphs" >60%</text>
<path d="M594.18,617.70 L596.98,615.40 L599.78,617.70 L596.98,620.00 Z" fill="#b3c5ae"/>
<line x1="596.98" y1="614.70" x2="596.98" y2="608.70" stroke="#e4e9e2" stroke-width="0.6"/>
<text x="596.98" y="607.40" font-size="5.3" fill="#b9c6b5" text-anchor="middle" font-weight="normal" textLength="11.5" lengthAdjust="spacingAndGlyphs" >40%</text>
<path d="M617.11,571.80 L619.91,569.50 L622.71,571.80 L619.91,574.10 Z" fill="#b3c5ae"/>
<line x1="619.91" y1="568.80" x2="619.91" y2="562.80" stroke="#e4e9e2" stroke-width="0.6"/>
<text x="619.91" y="561.50" font-size="5.3" fill="#b9c6b5" text-anchor="middle" font-weight="normal" textLength="14.0" lengthAdjust="spacingAndGlyphs" >100%</text>
<path d="M640.04,587.10 L642.84,584.80 L645.64,587.10 L642.84,589.40 Z" fill="#b3c5ae"/>
<line x1="642.84" y1="584.10" x2="642.84" y2="578.10" stroke="#e4e9e2" stroke-width="0.6"/>
<text x="642.84" y="576.80" font-size="5.3" fill="#b9c6b5" text-anchor="middle" font-weight="normal" textLength="11.5" lengthAdjust="spacingAndGlyphs" >80%</text>
<path d="M662.97,617.70 L665.77,615.40 L668.57,617.70 L665.77,620.00 Z" fill="#b3c5ae"/>
<line x1="665.77" y1="614.70" x2="665.77" y2="608.70" stroke="#e4e9e2" stroke-width="0.6"/>
<text x="665.77" y="607.40" font-size="5.3" fill="#b9c6b5" text-anchor="middle" font-weight="normal" textLength="11.5" lengthAdjust="spacingAndGlyphs" >40%</text>
<path d="M685.90,587.10 L688.70,584.80 L691.50,587.10 L688.70,589.40 Z" fill="#b3c5ae"/>
<line x1="688.70" y1="584.10" x2="688.70" y2="578.10" stroke="#e4e9e2" stroke-width="0.6"/>
<text x="688.70" y="576.80" font-size="5.3" fill="#b9c6b5" text-anchor="middle" font-weight="normal" textLength="11.5" lengthAdjust="spacingAndGlyphs" >80%</text>
<path d="M708.83,602.40 L711.63,600.10 L714.43,602.40 L711.63,604.70 Z" fill="#b3c5ae"/>
<line x1="711.63" y1="599.40" x2="711.63" y2="593.40" stroke="#e4e9e2" stroke-width="0.6"/>
<text x="711.63" y="592.10" font-size="5.3" fill="#b9c6b5" text-anchor="middle" font-weight="normal" textLength="11.5" lengthAdjust="spacingAndGlyphs" >60%</text>
<path d="M731.76,587.10 L734.56,584.80 L737.36,587.10 L734.56,589.40 Z" fill="#b3c5ae"/>
<line x1="734.56" y1="584.10" x2="734.56" y2="578.10" stroke="#e4e9e2" stroke-width="0.6"/>
<text x="734.56" y="576.80" font-size="5.3" fill="#b9c6b5" text-anchor="middle" font-weight="normal" textLength="11.5" lengthAdjust="spacingAndGlyphs" >80%</text>
<path d="M754.69,587.10 L757.49,584.80 L760.29,587.10 L757.49,589.40 Z" fill="#b3c5ae"/>
<line x1="757.49" y1="584.10" x2="757.49" y2="578.10" stroke="#e4e9e2" stroke-width="0.6"/>
<text x="757.49" y="576.80" font-size="5.3" fill="#b9c6b5" text-anchor="middle" font-weight="normal" textLength="11.5" lengthAdjust="spacingAndGlyphs" >80%</text>
<path d="M777.62,587.10 L780.42,584.80 L783.22,587.10 L780.42,589.40 Z" fill="#b3c5ae"/>
<line x1="780.42" y1="584.10" x2="780.42" y2="578.10" stroke="#e4e9e2" stroke-width="0.6"/>
<text x="780.42" y="576.80" font-size="5.3" fill="#b9c6b5" text-anchor="middle" font-weight="normal" textLength="11.5" lengthAdjust="spacingAndGlyphs" >80%</text>
<path d="M800.55,571.80 L803.35,569.50 L806.15,571.80 L803.35,574.10 Z" fill="#b3c5ae"/>
<line x1="803.35" y1="568.80" x2="803.35" y2="562.80" stroke="#e4e9e2" stroke-width="0.6"/>
<text x="803.35" y="561.50" font-size="5.3" fill="#b9c6b5" text-anchor="middle" font-weight="normal" textLength="14.0" lengthAdjust="spacingAndGlyphs" >100%</text>
<path d="M823.48,602.40 L826.28,600.10 L829.08,602.40 L826.28,604.70 Z" fill="#b3c5ae"/>
<line x1="826.28" y1="599.40" x2="826.28" y2="593.40" stroke="#e4e9e2" stroke-width="0.6"/>
<text x="826.28" y="592.10" font-size="5.3" fill="#b9c6b5" text-anchor="middle" font-weight="normal" textLength="11.5" lengthAdjust="spacingAndGlyphs" >60%</text>
<path d="M846.41,587.10 L849.21,584.80 L852.01,587.10 L849.21,589.40 Z" fill="#b3c5ae"/>
<line x1="849.21" y1="584.10" x2="849.21" y2="578.10" stroke="#e4e9e2" stroke-width="0.6"/>
<text x="849.21" y="576.80" font-size="5.3" fill="#b9c6b5" text-anchor="middle" font-weight="normal" textLength="11.5" lengthAdjust="spacingAndGlyphs" >80%</text>
<path d="M869.34,602.40 L872.14,600.10 L874.94,602.40 L872.14,604.70 Z" fill="#b3c5ae"/>
<line x1="872.14" y1="599.40" x2="872.14" y2="593.40" stroke="#e4e9e2" stroke-width="0.6"/>
<text x="872.14" y="592.10" font-size="5.3" fill="#b9c6b5" text-anchor="middle" font-weight="normal" textLength="11.5" lengthAdjust="spacingAndGlyphs" >60%</text>
<path d="M892.27,571.80 L895.07,569.50 L897.87,571.80 L895.07,574.10 Z" fill="#b3c5ae"/>
<line x1="895.07" y1="568.80" x2="895.07" y2="562.80" stroke="#e4e9e2" stroke-width="0.6"/>
<text x="895.07" y="561.50" font-size="5.3" fill="#b9c6b5" text-anchor="middle" font-weight="normal" textLength="14.0" lengthAdjust="spacingAndGlyphs" >100%</text>
<path d="M915.20,602.40 L918.00,600.10 L920.80,602.40 L918.00,604.70 Z" fill="#b3c5ae"/>
<line x1="918.00" y1="599.40" x2="918.00" y2="593.40" stroke="#e4e9e2" stroke-width="0.6"/>
<text x="918.00" y="592.10" font-size="5.3" fill="#b9c6b5" text-anchor="middle" font-weight="normal" textLength="11.5" lengthAdjust="spacingAndGlyphs" >60%</text>
<path d="M938.13,617.70 L940.93,615.40 L943.73,617.70 L940.93,620.00 Z" fill="#b3c5ae"/>
<line x1="940.93" y1="614.70" x2="940.93" y2="608.70" stroke="#e4e9e2" stroke-width="0.6"/>
<text x="940.93" y="607.40" font-size="5.3" fill="#b9c6b5" text-anchor="middle" font-weight="normal" textLength="11.5" lengthAdjust="spacingAndGlyphs" >40%</text>
<path d="M961.06,633.00 L963.86,630.70 L966.66,633.00 L963.86,635.30 Z" fill="#b3c5ae"/>
<line x1="963.86" y1="630.00" x2="963.86" y2="624.00" stroke="#e4e9e2" stroke-width="0.6"/>
<text x="963.86" y="622.70" font-size="5.3" fill="#b9c6b5" text-anchor="middle" font-weight="normal" textLength="11.5" lengthAdjust="spacingAndGlyphs" >20%</text>
<path d="M983.99,587.10 L986.79,584.80 L989.59,587.10 L986.79,589.40 Z" fill="#b3c5ae"/>
<line x1="986.79" y1="584.10" x2="986.79" y2="578.10" stroke="#e4e9e2" stroke-width="0.6"/>
<text x="986.79" y="576.80" font-size="5.3" fill="#b9c6b5" text-anchor="middle" font-weight="normal" textLength="11.5" lengthAdjust="spacingAndGlyphs" >80%</text>
<path d="M1006.92,602.40 L1009.72,600.10 L1012.52,602.40 L1009.72,604.70 Z" fill="#b3c5ae"/>
<line x1="1009.72" y1="599.40" x2="1009.72" y2="593.40" stroke="#e4e9e2" stroke-width="0.6"/>
<text x="1009.72" y="592.10" font-size="5.3" fill="#b9c6b5" text-anchor="middle" font-weight="normal" textLength="11.5" lengthAdjust="spacingAndGlyphs" >60%</text>
<path d="M1029.85,587.10 L1032.65,584.80 L1035.45,587.10 L1032.65,589.40 Z" fill="#b3c5ae"/>
<line x1="1032.65" y1="584.10" x2="1032.65" y2="578.10" stroke="#e4e9e2" stroke-width="0.6"/>
<text x="1032.65" y="576.80" font-size="5.3" fill="#b9c6b5" text-anchor="middle" font-weight="normal" textLength="11.5" lengthAdjust="spacingAndGlyphs" >80%</text>
<path d="M1052.78,602.40 L1055.58,600.10 L1058.38,602.40 L1055.58,604.70 Z" fill="#b3c5ae"/>
<line x1="1055.58" y1="599.40" x2="1055.58" y2="593.40" stroke="#e4e9e2" stroke-width="0.6"/>
<text x="1055.58" y="592.10" font-size="5.3" fill="#b9c6b5" text-anchor="middle" font-weight="normal" textLength="11.5" lengthAdjust="spacingAndGlyphs" >60%</text>
<path d="M1075.71,571.80 L1078.51,569.50 L1081.31,571.80 L1078.51,574.10 Z" fill="#b3c5ae"/>
<line x1="1078.51" y1="568.80" x2="1078.51" y2="562.80" stroke="#e4e9e2" stroke-width="0.6"/>
<text x="1078.51" y="561.50" font-size="5.3" fill="#b9c6b5" text-anchor="middle" font-weight="normal" textLength="14.0" lengthAdjust="spacingAndGlyphs" >100%</text>
<path d="M1098.64,602.40 L1101.44,600.10 L1104.24,602.40 L1101.44,604.70 Z" fill="#b3c5ae"/>
<line x1="1101.44" y1="599.40" x2="1101.44" y2="593.40" stroke="#e4e9e2" stroke-width="0.6"/>
<text x="1101.44" y="592.10" font-size="5.3" fill="#b9c6b5" text-anchor="middle" font-weight="normal" textLength="11.5" lengthAdjust="spacingAndGlyphs" >60%</text>
<path d="M1121.57,633.00 L1124.37,630.70 L1127.17,633.00 L1124.37,635.30 Z" fill="#b3c5ae"/>
<line x1="1124.37" y1="630.00" x2="1124.37" y2="624.00" stroke="#e4e9e2" stroke-width="0.6"/>
<text x="1124.37" y="622.70" font-size="5.3" fill="#b9c6b5" text-anchor="middle" font-weight="normal" textLength="11.5" lengthAdjust="spacingAndGlyphs" >20%</text>
<path d="M1144.50,602.40 L1147.30,600.10 L1150.10,602.40 L1147.30,604.70 Z" fill="#b3c5ae"/>
<line x1="1147.30" y1="599.40" x2="1147.30" y2="593.40" stroke="#e4e9e2" stroke-width="0.6"/>
<text x="1147.30" y="592.10" font-size="5.3" fill="#b9c6b5" text-anchor="middle" font-weight="normal" textLength="11.5" lengthAdjust="spacingAndGlyphs" >60%</text>
<text x="455.60" y="573.80" font-size="5.4" fill="#222" text-anchor="end" font-weight="bold"  stroke="#222" stroke-width=".22">100%</text>
<text x="455.60" y="592.92" font-size="5.4" fill="#222" text-anchor="end" font-weight="bold"  stroke="#222" stroke-width=".22">75%</text>
<text x="455.60" y="612.05" font-size="5.4" fill="#222" text-anchor="end" font-weight="bold"  stroke="#222" stroke-width=".22">50%</text>
<text x="455.60" y="631.17" font-size="5.4" fill="#222" text-anchor="end" font-weight="bold"  stroke="#222" stroke-width=".22">25%</text>
<text x="455.60" y="650.30" font-size="5.4" fill="#222" text-anchor="end" font-weight="bold"  stroke="#222" stroke-width=".22">0%</text>
<rect x="429.50" y="660.30" width="731.80" height="12.00" fill="#ececec" />
<text x="795.50" y="668.40" font-size="5.8" fill="#111" text-anchor="middle" font-weight="bold" textLength="69.0" lengthAdjust="spacingAndGlyphs"  stroke="#111" stroke-width=".22">HEALTH TRACKER</text>
<text x="431.50" y="699.00" font-size="6.9" fill="#484848" text-anchor="start" font-weight="normal" textLength="53.0" lengthAdjust="spacingAndGlyphs" >Hours of sleep</text>
<line x1="429.50" y1="702.40" x2="558.30" y2="702.40" stroke="#e4e4e4" stroke-width="0.8"/>
<text x="431.50" y="710.75" font-size="6.9" fill="#484848" text-anchor="start" font-weight="normal" textLength="85.0" lengthAdjust="spacingAndGlyphs" >Todays mood (out of 5)</text>
<line x1="429.50" y1="714.15" x2="558.30" y2="714.15" stroke="#e4e4e4" stroke-width="0.8"/>
<text x="431.50" y="722.50" font-size="6.9" fill="#484848" text-anchor="start" font-weight="normal" textLength="110.0" lengthAdjust="spacingAndGlyphs" >Todays energy levels (out of 5)</text>
<line x1="429.50" y1="725.90" x2="558.30" y2="725.90" stroke="#e4e4e4" stroke-width="0.8"/>
<rect x="561.00" y="690.4" width="128.64" height="35.60000000000002" fill="#d9e3d5" stroke="#c0d0ba" stroke-width="0.9"/>
<line x1="579.52" y1="690.40" x2="579.52" y2="726.00" stroke="#c0d0ba" stroke-width="0.7"/>
<line x1="597.84" y1="690.40" x2="597.84" y2="726.00" stroke="#c0d0ba" stroke-width="0.7"/>
<line x1="616.16" y1="690.40" x2="616.16" y2="726.00" stroke="#c0d0ba" stroke-width="0.7"/>
<line x1="634.48" y1="690.40" x2="634.48" y2="726.00" stroke="#c0d0ba" stroke-width="0.7"/>
<line x1="652.80" y1="690.40" x2="652.80" y2="726.00" stroke="#c0d0ba" stroke-width="0.7"/>
<line x1="671.12" y1="690.40" x2="671.12" y2="726.00" stroke="#c0d0ba" stroke-width="0.7"/>
<line x1="561.00" y1="702.27" x2="689.64" y2="702.27" stroke="#c0d0ba" stroke-width="0.7"/>
<line x1="561.00" y1="714.13" x2="689.64" y2="714.13" stroke="#c0d0ba" stroke-width="0.7"/>
<rect x="692.75" y="690.4" width="128.64" height="35.60000000000002" fill="#e5ebe2" stroke="#d5dfd1" stroke-width="0.9"/>
<line x1="711.27" y1="690.40" x2="711.27" y2="726.00" stroke="#d5dfd1" stroke-width="0.7"/>
<line x1="729.59" y1="690.40" x2="729.59" y2="726.00" stroke="#d5dfd1" stroke-width="0.7"/>
<line x1="747.91" y1="690.40" x2="747.91" y2="726.00" stroke="#d5dfd1" stroke-width="0.7"/>
<line x1="766.23" y1="690.40" x2="766.23" y2="726.00" stroke="#d5dfd1" stroke-width="0.7"/>
<line x1="784.55" y1="690.40" x2="784.55" y2="726.00" stroke="#d5dfd1" stroke-width="0.7"/>
<line x1="802.87" y1="690.40" x2="802.87" y2="726.00" stroke="#d5dfd1" stroke-width="0.7"/>
<line x1="692.75" y1="702.27" x2="821.39" y2="702.27" stroke="#d5dfd1" stroke-width="0.7"/>
<line x1="692.75" y1="714.13" x2="821.39" y2="714.13" stroke="#d5dfd1" stroke-width="0.7"/>
<rect x="824.50" y="690.4" width="128.64" height="35.60000000000002" fill="#f2edf1" stroke="#e6dde5" stroke-width="0.9"/>
<line x1="843.02" y1="690.40" x2="843.02" y2="726.00" stroke="#e6dde5" stroke-width="0.7"/>
<line x1="861.34" y1="690.40" x2="861.34" y2="726.00" stroke="#e6dde5" stroke-width="0.7"/>
<line x1="879.66" y1="690.40" x2="879.66" y2="726.00" stroke="#e6dde5" stroke-width="0.7"/>
<line x1="897.98" y1="690.40" x2="897.98" y2="726.00" stroke="#e6dde5" stroke-width="0.7"/>
<line x1="916.30" y1="690.40" x2="916.30" y2="726.00" stroke="#e6dde5" stroke-width="0.7"/>
<line x1="934.62" y1="690.40" x2="934.62" y2="726.00" stroke="#e6dde5" stroke-width="0.7"/>
<line x1="824.50" y1="702.27" x2="953.14" y2="702.27" stroke="#e6dde5" stroke-width="0.7"/>
<line x1="824.50" y1="714.13" x2="953.14" y2="714.13" stroke="#e6dde5" stroke-width="0.7"/>
<rect x="956.25" y="690.4" width="128.64" height="35.60000000000002" fill="#f8e3de" stroke="#f0cec6" stroke-width="0.9"/>
<line x1="974.77" y1="690.40" x2="974.77" y2="726.00" stroke="#f0cec6" stroke-width="0.7"/>
<line x1="993.09" y1="690.40" x2="993.09" y2="726.00" stroke="#f0cec6" stroke-width="0.7"/>
<line x1="1011.41" y1="690.40" x2="1011.41" y2="726.00" stroke="#f0cec6" stroke-width="0.7"/>
<line x1="1029.73" y1="690.40" x2="1029.73" y2="726.00" stroke="#f0cec6" stroke-width="0.7"/>
<line x1="1048.05" y1="690.40" x2="1048.05" y2="726.00" stroke="#f0cec6" stroke-width="0.7"/>
<line x1="1066.37" y1="690.40" x2="1066.37" y2="726.00" stroke="#f0cec6" stroke-width="0.7"/>
<line x1="956.25" y1="702.27" x2="1084.89" y2="702.27" stroke="#f0cec6" stroke-width="0.7"/>
<line x1="956.25" y1="714.13" x2="1084.89" y2="714.13" stroke="#f0cec6" stroke-width="0.7"/>
<rect x="1088.00" y="690.4" width="55.36" height="35.60000000000002" fill="#f8e1dc" stroke="#ecbfb6" stroke-width="0.9"/>
<line x1="1106.52" y1="690.40" x2="1106.52" y2="726.00" stroke="#ecbfb6" stroke-width="0.7"/>
<line x1="1124.84" y1="690.40" x2="1124.84" y2="726.00" stroke="#ecbfb6" stroke-width="0.7"/>
<line x1="1088.00" y1="702.27" x2="1143.36" y2="702.27" stroke="#ecbfb6" stroke-width="0.7"/>
<line x1="1088.00" y1="714.13" x2="1143.36" y2="714.13" stroke="#ecbfb6" stroke-width="0.7"/>
<text x="570.40" y="698.80" font-size="6.8" fill="#5a5a5a" text-anchor="middle" font-weight="normal" >7</text>
<text x="588.72" y="698.80" font-size="6.8" fill="#5a5a5a" text-anchor="middle" font-weight="normal" >8</text>
<text x="607.04" y="698.80" font-size="6.8" fill="#5a5a5a" text-anchor="middle" font-weight="normal" >7</text>
<text x="625.36" y="698.80" font-size="6.8" fill="#5a5a5a" text-anchor="middle" font-weight="normal" >7</text>
<text x="643.68" y="698.80" font-size="6.8" fill="#5a5a5a" text-anchor="middle" font-weight="normal" >6.5</text>
<text x="662.00" y="698.80" font-size="6.8" fill="#5a5a5a" text-anchor="middle" font-weight="normal" >8</text>
<text x="680.32" y="698.80" font-size="6.8" fill="#5a5a5a" text-anchor="middle" font-weight="normal" >8</text>
<text x="702.15" y="698.80" font-size="6.8" fill="#5a5a5a" text-anchor="middle" font-weight="normal" >7</text>
<text x="720.47" y="698.80" font-size="6.8" fill="#5a5a5a" text-anchor="middle" font-weight="normal" >7</text>
<text x="738.79" y="698.80" font-size="6.8" fill="#5a5a5a" text-anchor="middle" font-weight="normal" >5.5</text>
<text x="757.11" y="698.80" font-size="6.8" fill="#5a5a5a" text-anchor="middle" font-weight="normal" >6</text>
<text x="775.43" y="698.80" font-size="6.8" fill="#5a5a5a" text-anchor="middle" font-weight="normal" >7.5</text>
<text x="793.75" y="698.80" font-size="6.8" fill="#5a5a5a" text-anchor="middle" font-weight="normal" >8</text>
<text x="812.07" y="698.80" font-size="6.8" fill="#5a5a5a" text-anchor="middle" font-weight="normal" >8</text>
<text x="833.90" y="698.80" font-size="6.8" fill="#5a5a5a" text-anchor="middle" font-weight="normal" >8</text>
<text x="852.22" y="698.80" font-size="6.8" fill="#5a5a5a" text-anchor="middle" font-weight="normal" >8</text>
<text x="870.54" y="698.80" font-size="6.8" fill="#5a5a5a" text-anchor="middle" font-weight="normal" >8</text>
<text x="888.86" y="698.80" font-size="6.8" fill="#5a5a5a" text-anchor="middle" font-weight="normal" >8</text>
<text x="907.18" y="698.80" font-size="6.8" fill="#5a5a5a" text-anchor="middle" font-weight="normal" >8</text>
<text x="925.50" y="698.80" font-size="6.8" fill="#5a5a5a" text-anchor="middle" font-weight="normal" >8</text>
<text x="943.82" y="698.80" font-size="6.8" fill="#5a5a5a" text-anchor="middle" font-weight="normal" >6</text>
<text x="965.65" y="698.80" font-size="6.8" fill="#5a5a5a" text-anchor="middle" font-weight="normal" >6</text>
<text x="983.97" y="698.80" font-size="6.8" fill="#5a5a5a" text-anchor="middle" font-weight="normal" >8</text>
<text x="1002.29" y="698.80" font-size="6.8" fill="#5a5a5a" text-anchor="middle" font-weight="normal" >8</text>
<text x="1020.61" y="698.80" font-size="6.8" fill="#5a5a5a" text-anchor="middle" font-weight="normal" >7</text>
<text x="1038.93" y="698.80" font-size="6.8" fill="#5a5a5a" text-anchor="middle" font-weight="normal" >7</text>
<text x="1057.25" y="698.80" font-size="6.8" fill="#5a5a5a" text-anchor="middle" font-weight="normal" >7</text>
<text x="1075.57" y="698.80" font-size="6.8" fill="#5a5a5a" text-anchor="middle" font-weight="normal" >6.5</text>
<text x="1097.40" y="698.80" font-size="6.8" fill="#5a5a5a" text-anchor="middle" font-weight="normal" >6.5</text>
<text x="1115.72" y="698.80" font-size="6.8" fill="#5a5a5a" text-anchor="middle" font-weight="normal" >6</text>
<text x="1134.04" y="698.80" font-size="6.8" fill="#5a5a5a" text-anchor="middle" font-weight="normal" >7</text>
<text x="570.40" y="710.67" font-size="6.8" fill="#5a5a5a" text-anchor="middle" font-weight="normal" >5</text>
<text x="588.72" y="710.67" font-size="6.8" fill="#5a5a5a" text-anchor="middle" font-weight="normal" >4</text>
<text x="607.04" y="710.67" font-size="6.8" fill="#5a5a5a" text-anchor="middle" font-weight="normal" >5</text>
<text x="625.36" y="710.67" font-size="6.8" fill="#5a5a5a" text-anchor="middle" font-weight="normal" >3</text>
<text x="643.68" y="710.67" font-size="6.8" fill="#5a5a5a" text-anchor="middle" font-weight="normal" >1</text>
<text x="662.00" y="710.67" font-size="6.8" fill="#5a5a5a" text-anchor="middle" font-weight="normal" >3</text>
<text x="680.32" y="710.67" font-size="6.8" fill="#5a5a5a" text-anchor="middle" font-weight="normal" >3</text>
<text x="702.15" y="710.67" font-size="6.8" fill="#5a5a5a" text-anchor="middle" font-weight="normal" >4</text>
<text x="720.47" y="710.67" font-size="6.8" fill="#5a5a5a" text-anchor="middle" font-weight="normal" >4</text>
<text x="738.79" y="710.67" font-size="6.8" fill="#5a5a5a" text-anchor="middle" font-weight="normal" >3</text>
<text x="757.11" y="710.67" font-size="6.8" fill="#5a5a5a" text-anchor="middle" font-weight="normal" >1</text>
<text x="775.43" y="710.67" font-size="6.8" fill="#5a5a5a" text-anchor="middle" font-weight="normal" >5</text>
<text x="793.75" y="710.67" font-size="6.8" fill="#5a5a5a" text-anchor="middle" font-weight="normal" >5</text>
<text x="812.07" y="710.67" font-size="6.8" fill="#5a5a5a" text-anchor="middle" font-weight="normal" >5</text>
<text x="833.90" y="710.67" font-size="6.8" fill="#5a5a5a" text-anchor="middle" font-weight="normal" >4</text>
<text x="852.22" y="710.67" font-size="6.8" fill="#5a5a5a" text-anchor="middle" font-weight="normal" >5</text>
<text x="870.54" y="710.67" font-size="6.8" fill="#5a5a5a" text-anchor="middle" font-weight="normal" >3</text>
<text x="888.86" y="710.67" font-size="6.8" fill="#5a5a5a" text-anchor="middle" font-weight="normal" >2</text>
<text x="907.18" y="710.67" font-size="6.8" fill="#5a5a5a" text-anchor="middle" font-weight="normal" >0</text>
<text x="925.50" y="710.67" font-size="6.8" fill="#5a5a5a" text-anchor="middle" font-weight="normal" >0</text>
<text x="943.82" y="710.67" font-size="6.8" fill="#5a5a5a" text-anchor="middle" font-weight="normal" >3</text>
<text x="965.65" y="710.67" font-size="6.8" fill="#5a5a5a" text-anchor="middle" font-weight="normal" >1</text>
<text x="983.97" y="710.67" font-size="6.8" fill="#5a5a5a" text-anchor="middle" font-weight="normal" >1</text>
<text x="1002.29" y="710.67" font-size="6.8" fill="#5a5a5a" text-anchor="middle" font-weight="normal" >3</text>
<text x="1020.61" y="710.67" font-size="6.8" fill="#5a5a5a" text-anchor="middle" font-weight="normal" >4</text>
<text x="1038.93" y="710.67" font-size="6.8" fill="#5a5a5a" text-anchor="middle" font-weight="normal" >4</text>
<text x="1057.25" y="710.67" font-size="6.8" fill="#5a5a5a" text-anchor="middle" font-weight="normal" >3</text>
<text x="1075.57" y="710.67" font-size="6.8" fill="#5a5a5a" text-anchor="middle" font-weight="normal" >3</text>
<text x="1097.40" y="710.67" font-size="6.8" fill="#5a5a5a" text-anchor="middle" font-weight="normal" >1</text>
<text x="1115.72" y="710.67" font-size="6.8" fill="#5a5a5a" text-anchor="middle" font-weight="normal" >1</text>
<text x="1134.04" y="710.67" font-size="6.8" fill="#5a5a5a" text-anchor="middle" font-weight="normal" >2</text>
<text x="570.40" y="722.53" font-size="6.8" fill="#5a5a5a" text-anchor="middle" font-weight="normal" >4</text>
<text x="588.72" y="722.53" font-size="6.8" fill="#5a5a5a" text-anchor="middle" font-weight="normal" >4</text>
<text x="607.04" y="722.53" font-size="6.8" fill="#5a5a5a" text-anchor="middle" font-weight="normal" >3</text>
<text x="625.36" y="722.53" font-size="6.8" fill="#5a5a5a" text-anchor="middle" font-weight="normal" >3</text>
<text x="643.68" y="722.53" font-size="6.8" fill="#5a5a5a" text-anchor="middle" font-weight="normal" >1</text>
<text x="662.00" y="722.53" font-size="6.8" fill="#5a5a5a" text-anchor="middle" font-weight="normal" >4</text>
<text x="680.32" y="722.53" font-size="6.8" fill="#5a5a5a" text-anchor="middle" font-weight="normal" >5</text>
<text x="702.15" y="722.53" font-size="6.8" fill="#5a5a5a" text-anchor="middle" font-weight="normal" >4</text>
<text x="720.47" y="722.53" font-size="6.8" fill="#5a5a5a" text-anchor="middle" font-weight="normal" >4</text>
<text x="738.79" y="722.53" font-size="6.8" fill="#5a5a5a" text-anchor="middle" font-weight="normal" >3</text>
<text x="757.11" y="722.53" font-size="6.8" fill="#5a5a5a" text-anchor="middle" font-weight="normal" >1</text>
<text x="775.43" y="722.53" font-size="6.8" fill="#5a5a5a" text-anchor="middle" font-weight="normal" >4</text>
<text x="793.75" y="722.53" font-size="6.8" fill="#5a5a5a" text-anchor="middle" font-weight="normal" >5</text>
<text x="812.07" y="722.53" font-size="6.8" fill="#5a5a5a" text-anchor="middle" font-weight="normal" >5</text>
<text x="833.90" y="722.53" font-size="6.8" fill="#5a5a5a" text-anchor="middle" font-weight="normal" >4</text>
<text x="852.22" y="722.53" font-size="6.8" fill="#5a5a5a" text-anchor="middle" font-weight="normal" >5</text>
<text x="870.54" y="722.53" font-size="6.8" fill="#5a5a5a" text-anchor="middle" font-weight="normal" >3</text>
<text x="888.86" y="722.53" font-size="6.8" fill="#5a5a5a" text-anchor="middle" font-weight="normal" >1</text>
<text x="907.18" y="722.53" font-size="6.8" fill="#5a5a5a" text-anchor="middle" font-weight="normal" >1</text>
<text x="925.50" y="722.53" font-size="6.8" fill="#5a5a5a" text-anchor="middle" font-weight="normal" >1</text>
<text x="943.82" y="722.53" font-size="6.8" fill="#5a5a5a" text-anchor="middle" font-weight="normal" >1</text>
<text x="965.65" y="722.53" font-size="6.8" fill="#5a5a5a" text-anchor="middle" font-weight="normal" >0</text>
<text x="983.97" y="722.53" font-size="6.8" fill="#5a5a5a" text-anchor="middle" font-weight="normal" >0</text>
<text x="1002.29" y="722.53" font-size="6.8" fill="#5a5a5a" text-anchor="middle" font-weight="normal" >3</text>
<text x="1020.61" y="722.53" font-size="6.8" fill="#5a5a5a" text-anchor="middle" font-weight="normal" >4</text>
<text x="1038.93" y="722.53" font-size="6.8" fill="#5a5a5a" text-anchor="middle" font-weight="normal" >4</text>
<text x="1057.25" y="722.53" font-size="6.8" fill="#5a5a5a" text-anchor="middle" font-weight="normal" >3</text>
<text x="1075.57" y="722.53" font-size="6.8" fill="#5a5a5a" text-anchor="middle" font-weight="normal" >2</text>
<text x="1097.40" y="722.53" font-size="6.8" fill="#5a5a5a" text-anchor="middle" font-weight="normal" >1</text>
<text x="1115.72" y="722.53" font-size="6.8" fill="#5a5a5a" text-anchor="middle" font-weight="normal" >0</text>
<text x="1134.04" y="722.53" font-size="6.8" fill="#5a5a5a" text-anchor="middle" font-weight="normal" >1</text>
<rect x="429.50" y="745.40" width="731.80" height="11.70" fill="#ececec" />
<text x="795.50" y="753.40" font-size="5.8" fill="#111" text-anchor="middle" font-weight="bold" textLength="62.0" lengthAdjust="spacingAndGlyphs"  stroke="#111" stroke-width=".22">WEEKLY GOALS</text>
<rect x="429.50" y="775.20" width="132.20" height="12.20" fill="#b1c2ac" />
<text x="495.60" y="783.50" font-size="5.9" fill="#fff" text-anchor="middle" font-weight="bold" textLength="58.0" lengthAdjust="spacingAndGlyphs" stroke="#fff" stroke-width=".3">WEEK 1 GOALS</text>
<rect x="435.40" y="795.60" width="7.60" height="7.60" rx="1.0" fill="#aec0a8"/>
<path d="M436.90,799.50 l1.7,1.8 l3.1,-3.8" fill="none" stroke="#fff" stroke-opacity=".85" stroke-width="0.95" stroke-linecap="round" stroke-linejoin="round"/>
<line x1="448.00" y1="805.00" x2="561.70" y2="805.00" stroke="#e2e2e2" stroke-width="0.8"/>
<text x="449.80" y="802.20" font-size="6.4" fill="#444" text-anchor="start" font-weight="normal" textLength="20.0" lengthAdjust="spacingAndGlyphs" >Goal 1</text>
<rect x="435.40" y="807.34" width="7.60" height="7.60" rx="1.0" fill="#aec0a8"/>
<path d="M436.90,811.24 l1.7,1.8 l3.1,-3.8" fill="none" stroke="#fff" stroke-opacity=".85" stroke-width="0.95" stroke-linecap="round" stroke-linejoin="round"/>
<line x1="448.00" y1="816.74" x2="561.70" y2="816.74" stroke="#e2e2e2" stroke-width="0.8"/>
<text x="449.80" y="813.93" font-size="6.4" fill="#444" text-anchor="start" font-weight="normal" textLength="20.0" lengthAdjust="spacingAndGlyphs" >Goal 2</text>
<rect x="435.40" y="819.07" width="7.60" height="7.60" rx="1.0" fill="#aec0a8"/>
<path d="M436.90,822.97 l1.7,1.8 l3.1,-3.8" fill="none" stroke="#fff" stroke-opacity=".85" stroke-width="0.95" stroke-linecap="round" stroke-linejoin="round"/>
<line x1="448.00" y1="828.47" x2="561.70" y2="828.47" stroke="#e2e2e2" stroke-width="0.8"/>
<text x="449.80" y="825.67" font-size="6.4" fill="#444" text-anchor="start" font-weight="normal" textLength="20.0" lengthAdjust="spacingAndGlyphs" >Goal 3</text>
<rect x="435.40" y="830.81" width="7.60" height="7.60" rx="1.0" fill="#aec0a8"/>
<path d="M436.90,834.71 l1.7,1.8 l3.1,-3.8" fill="none" stroke="#fff" stroke-opacity=".85" stroke-width="0.95" stroke-linecap="round" stroke-linejoin="round"/>
<line x1="448.00" y1="840.21" x2="561.70" y2="840.21" stroke="#e2e2e2" stroke-width="0.8"/>
<rect x="435.90" y="843.04" width="6.60" height="6.60" rx="0.9" fill="#fff" stroke="#b7c8b2" stroke-width="1.0"/>
<line x1="448.00" y1="851.94" x2="561.70" y2="851.94" stroke="#e2e2e2" stroke-width="0.8"/>
<rect x="435.90" y="854.77" width="6.60" height="6.60" rx="0.9" fill="#fff" stroke="#b7c8b2" stroke-width="1.0"/>
<line x1="448.00" y1="863.67" x2="561.70" y2="863.67" stroke="#e2e2e2" stroke-width="0.8"/>
<rect x="435.90" y="866.51" width="6.60" height="6.60" rx="0.9" fill="#fff" stroke="#b7c8b2" stroke-width="1.0"/>
<line x1="448.00" y1="875.41" x2="561.70" y2="875.41" stroke="#e2e2e2" stroke-width="0.8"/>
<rect x="435.90" y="878.25" width="6.60" height="6.60" rx="0.9" fill="#fff" stroke="#b7c8b2" stroke-width="1.0"/>
<line x1="448.00" y1="887.14" x2="561.70" y2="887.14" stroke="#e2e2e2" stroke-width="0.8"/>
<rect x="435.90" y="889.98" width="6.60" height="6.60" rx="0.9" fill="#fff" stroke="#b7c8b2" stroke-width="1.0"/>
<line x1="448.00" y1="898.88" x2="561.70" y2="898.88" stroke="#e2e2e2" stroke-width="0.8"/>
<rect x="429.50" y="916.20" width="132.20" height="89.90" fill="#dde5da" />
<circle cx="495.30" cy="961.70" r="26.70" fill="none" stroke="#b1c2ac" stroke-width="17.80"/>
<path d="M491.70,962.30 l2.3,2.6 l4.6,-6.6" fill="none" stroke="#444" stroke-width="1.2" stroke-linecap="round" stroke-linejoin="round"/>
<rect x="579.45" y="775.20" width="132.20" height="12.20" fill="#cdd8c9" />
<text x="645.55" y="783.50" font-size="5.9" fill="#fff" text-anchor="middle" font-weight="bold" textLength="58.0" lengthAdjust="spacingAndGlyphs" stroke="#fff" stroke-width=".3">WEEK 2 GOALS</text>
<rect x="585.35" y="795.60" width="7.60" height="7.60" rx="1.0" fill="#c9d5c5"/>
<path d="M586.85,799.50 l1.7,1.8 l3.1,-3.8" fill="none" stroke="#fff" stroke-opacity=".85" stroke-width="0.95" stroke-linecap="round" stroke-linejoin="round"/>
<line x1="597.95" y1="805.00" x2="711.65" y2="805.00" stroke="#e2e2e2" stroke-width="0.8"/>
<text x="599.75" y="802.20" font-size="6.4" fill="#444" text-anchor="start" font-weight="normal" textLength="20.0" lengthAdjust="spacingAndGlyphs" >Goal 1</text>
<rect x="585.35" y="807.34" width="7.60" height="7.60" rx="1.0" fill="#c9d5c5"/>
<path d="M586.85,811.24 l1.7,1.8 l3.1,-3.8" fill="none" stroke="#fff" stroke-opacity=".85" stroke-width="0.95" stroke-linecap="round" stroke-linejoin="round"/>
<line x1="597.95" y1="816.74" x2="711.65" y2="816.74" stroke="#e2e2e2" stroke-width="0.8"/>
<text x="599.75" y="813.93" font-size="6.4" fill="#444" text-anchor="start" font-weight="normal" textLength="20.0" lengthAdjust="spacingAndGlyphs" >Goal 2</text>
<rect x="585.35" y="819.07" width="7.60" height="7.60" rx="1.0" fill="#c9d5c5"/>
<path d="M586.85,822.97 l1.7,1.8 l3.1,-3.8" fill="none" stroke="#fff" stroke-opacity=".85" stroke-width="0.95" stroke-linecap="round" stroke-linejoin="round"/>
<line x1="597.95" y1="828.47" x2="711.65" y2="828.47" stroke="#e2e2e2" stroke-width="0.8"/>
<text x="599.75" y="825.67" font-size="6.4" fill="#444" text-anchor="start" font-weight="normal" textLength="20.0" lengthAdjust="spacingAndGlyphs" >Goal 3</text>
<rect x="585.85" y="831.31" width="6.60" height="6.60" rx="0.9" fill="#fff" stroke="#d9e2d6" stroke-width="1.0"/>
<line x1="597.95" y1="840.21" x2="711.65" y2="840.21" stroke="#e2e2e2" stroke-width="0.8"/>
<text x="599.75" y="837.40" font-size="6.4" fill="#444" text-anchor="start" font-weight="normal" textLength="20.0" lengthAdjust="spacingAndGlyphs" >Goal 4</text>
<rect x="585.35" y="842.54" width="7.60" height="7.60" rx="1.0" fill="#c9d5c5"/>
<path d="M586.85,846.44 l1.7,1.8 l3.1,-3.8" fill="none" stroke="#fff" stroke-opacity=".85" stroke-width="0.95" stroke-linecap="round" stroke-linejoin="round"/>
<line x1="597.95" y1="851.94" x2="711.65" y2="851.94" stroke="#e2e2e2" stroke-width="0.8"/>
<text x="599.75" y="849.14" font-size="6.4" fill="#444" text-anchor="start" font-weight="normal" textLength="20.0" lengthAdjust="spacingAndGlyphs" >Goal 5</text>
<rect x="585.85" y="854.77" width="6.60" height="6.60" rx="0.9" fill="#fff" stroke="#d9e2d6" stroke-width="1.0"/>
<line x1="597.95" y1="863.67" x2="711.65" y2="863.67" stroke="#e2e2e2" stroke-width="0.8"/>
<rect x="585.85" y="866.51" width="6.60" height="6.60" rx="0.9" fill="#fff" stroke="#d9e2d6" stroke-width="1.0"/>
<line x1="597.95" y1="875.41" x2="711.65" y2="875.41" stroke="#e2e2e2" stroke-width="0.8"/>
<rect x="585.85" y="878.25" width="6.60" height="6.60" rx="0.9" fill="#fff" stroke="#d9e2d6" stroke-width="1.0"/>
<line x1="597.95" y1="887.14" x2="711.65" y2="887.14" stroke="#e2e2e2" stroke-width="0.8"/>
<rect x="585.85" y="889.98" width="6.60" height="6.60" rx="0.9" fill="#fff" stroke="#d9e2d6" stroke-width="1.0"/>
<line x1="597.95" y1="898.88" x2="711.65" y2="898.88" stroke="#e2e2e2" stroke-width="0.8"/>
<rect x="579.45" y="916.20" width="132.20" height="89.90" fill="#e5eae2" />
<path d="M645.25,926.10 A35.60,35.60 0 1 1 611.39,950.70 L628.32,956.20 A17.80,17.80 0 1 0 645.25,943.90 Z" fill="#cdd8c9"/>
<text x="645.25" y="963.90" font-size="6.2" fill="#111" text-anchor="middle" font-weight="bold" textLength="16.0" lengthAdjust="spacingAndGlyphs" stroke="#111" stroke-width=".3">80%</text>
<rect x="729.40" y="775.20" width="132.20" height="12.20" fill="#e2d5e0" />
<text x="795.50" y="783.50" font-size="5.9" fill="#fff" text-anchor="middle" font-weight="bold" textLength="58.0" lengthAdjust="spacingAndGlyphs" stroke="#fff" stroke-width=".3">WEEK 3 GOALS</text>
<rect x="735.30" y="795.60" width="7.60" height="7.60" rx="1.0" fill="#dfd1dd"/>
<path d="M736.80,799.50 l1.7,1.8 l3.1,-3.8" fill="none" stroke="#fff" stroke-opacity=".85" stroke-width="0.95" stroke-linecap="round" stroke-linejoin="round"/>
<line x1="747.90" y1="805.00" x2="861.60" y2="805.00" stroke="#e2e2e2" stroke-width="0.8"/>
<text x="749.70" y="802.20" font-size="6.4" fill="#444" text-anchor="start" font-weight="normal" textLength="20.0" lengthAdjust="spacingAndGlyphs" >Goal 1</text>
<rect x="735.80" y="807.84" width="6.60" height="6.60" rx="0.9" fill="#fff" stroke="#e8dfe7" stroke-width="1.0"/>
<line x1="747.90" y1="816.74" x2="861.60" y2="816.74" stroke="#e2e2e2" stroke-width="0.8"/>
<text x="749.70" y="813.93" font-size="6.4" fill="#444" text-anchor="start" font-weight="normal" textLength="20.0" lengthAdjust="spacingAndGlyphs" >Goal 2</text>
<rect x="735.80" y="819.57" width="6.60" height="6.60" rx="0.9" fill="#fff" stroke="#e8dfe7" stroke-width="1.0"/>
<line x1="747.90" y1="828.47" x2="861.60" y2="828.47" stroke="#e2e2e2" stroke-width="0.8"/>
<rect x="735.80" y="831.31" width="6.60" height="6.60" rx="0.9" fill="#fff" stroke="#e8dfe7" stroke-width="1.0"/>
<line x1="747.90" y1="840.21" x2="861.60" y2="840.21" stroke="#e2e2e2" stroke-width="0.8"/>
<rect x="735.80" y="843.04" width="6.60" height="6.60" rx="0.9" fill="#fff" stroke="#e8dfe7" stroke-width="1.0"/>
<line x1="747.90" y1="851.94" x2="861.60" y2="851.94" stroke="#e2e2e2" stroke-width="0.8"/>
<rect x="735.80" y="854.77" width="6.60" height="6.60" rx="0.9" fill="#fff" stroke="#e8dfe7" stroke-width="1.0"/>
<line x1="747.90" y1="863.67" x2="861.60" y2="863.67" stroke="#e2e2e2" stroke-width="0.8"/>
<rect x="735.80" y="866.51" width="6.60" height="6.60" rx="0.9" fill="#fff" stroke="#e8dfe7" stroke-width="1.0"/>
<line x1="747.90" y1="875.41" x2="861.60" y2="875.41" stroke="#e2e2e2" stroke-width="0.8"/>
<rect x="735.80" y="878.25" width="6.60" height="6.60" rx="0.9" fill="#fff" stroke="#e8dfe7" stroke-width="1.0"/>
<line x1="747.90" y1="887.14" x2="861.60" y2="887.14" stroke="#e2e2e2" stroke-width="0.8"/>
<rect x="735.80" y="889.98" width="6.60" height="6.60" rx="0.9" fill="#fff" stroke="#e8dfe7" stroke-width="1.0"/>
<line x1="747.90" y1="898.88" x2="861.60" y2="898.88" stroke="#e2e2e2" stroke-width="0.8"/>
<rect x="729.40" y="916.20" width="132.20" height="89.90" fill="#f1ebef" />
<path d="M795.20,926.10 A35.60,35.60 0 0 1 795.20,997.30 L795.20,979.50 A17.80,17.80 0 0 0 795.20,943.90 Z" fill="#e2d5e0"/>
<text x="795.20" y="963.90" font-size="6.2" fill="#111" text-anchor="middle" font-weight="bold" textLength="16.0" lengthAdjust="spacingAndGlyphs" stroke="#111" stroke-width=".3">50%</text>
<rect x="879.35" y="775.20" width="132.20" height="12.20" fill="#ecc5bd" />
<text x="945.45" y="783.50" font-size="5.9" fill="#fff" text-anchor="middle" font-weight="bold" textLength="58.0" lengthAdjust="spacingAndGlyphs" stroke="#fff" stroke-width=".3">WEEK 4 GOALS</text>
<rect x="885.25" y="795.60" width="7.60" height="7.60" rx="1.0" fill="#eabfb6"/>
<path d="M886.75,799.50 l1.7,1.8 l3.1,-3.8" fill="none" stroke="#fff" stroke-opacity=".85" stroke-width="0.95" stroke-linecap="round" stroke-linejoin="round"/>
<line x1="897.85" y1="805.00" x2="1011.55" y2="805.00" stroke="#e2e2e2" stroke-width="0.8"/>
<text x="899.65" y="802.20" font-size="6.4" fill="#444" text-anchor="start" font-weight="normal" textLength="20.0" lengthAdjust="spacingAndGlyphs" >Goal 1</text>
<rect x="885.75" y="807.84" width="6.60" height="6.60" rx="0.9" fill="#fff" stroke="#efcbc3" stroke-width="1.0"/>
<line x1="897.85" y1="816.74" x2="1011.55" y2="816.74" stroke="#e2e2e2" stroke-width="0.8"/>
<text x="899.65" y="813.93" font-size="6.4" fill="#444" text-anchor="start" font-weight="normal" textLength="20.0" lengthAdjust="spacingAndGlyphs" >Goal 2</text>
<rect x="885.25" y="819.07" width="7.60" height="7.60" rx="1.0" fill="#eabfb6"/>
<path d="M886.75,822.97 l1.7,1.8 l3.1,-3.8" fill="none" stroke="#fff" stroke-opacity=".85" stroke-width="0.95" stroke-linecap="round" stroke-linejoin="round"/>
<line x1="897.85" y1="828.47" x2="1011.55" y2="828.47" stroke="#e2e2e2" stroke-width="0.8"/>
<text x="899.65" y="825.67" font-size="6.4" fill="#444" text-anchor="start" font-weight="normal" textLength="20.0" lengthAdjust="spacingAndGlyphs" >Goal 1</text>
<rect x="885.25" y="830.81" width="7.60" height="7.60" rx="1.0" fill="#eabfb6"/>
<path d="M886.75,834.71 l1.7,1.8 l3.1,-3.8" fill="none" stroke="#fff" stroke-opacity=".85" stroke-width="0.95" stroke-linecap="round" stroke-linejoin="round"/>
<line x1="897.85" y1="840.21" x2="1011.55" y2="840.21" stroke="#e2e2e2" stroke-width="0.8"/>
<text x="899.65" y="837.40" font-size="6.4" fill="#444" text-anchor="start" font-weight="normal" textLength="20.0" lengthAdjust="spacingAndGlyphs" >Goal 2</text>
<rect x="885.75" y="843.04" width="6.60" height="6.60" rx="0.9" fill="#fff" stroke="#efcbc3" stroke-width="1.0"/>
<line x1="897.85" y1="851.94" x2="1011.55" y2="851.94" stroke="#e2e2e2" stroke-width="0.8"/>
<rect x="885.75" y="854.77" width="6.60" height="6.60" rx="0.9" fill="#fff" stroke="#efcbc3" stroke-width="1.0"/>
<line x1="897.85" y1="863.67" x2="1011.55" y2="863.67" stroke="#e2e2e2" stroke-width="0.8"/>
<rect x="885.75" y="866.51" width="6.60" height="6.60" rx="0.9" fill="#fff" stroke="#efcbc3" stroke-width="1.0"/>
<line x1="897.85" y1="875.41" x2="1011.55" y2="875.41" stroke="#e2e2e2" stroke-width="0.8"/>
<rect x="885.75" y="878.25" width="6.60" height="6.60" rx="0.9" fill="#fff" stroke="#efcbc3" stroke-width="1.0"/>
<line x1="897.85" y1="887.14" x2="1011.55" y2="887.14" stroke="#e2e2e2" stroke-width="0.8"/>
<rect x="885.75" y="889.98" width="6.60" height="6.60" rx="0.9" fill="#fff" stroke="#efcbc3" stroke-width="1.0"/>
<line x1="897.85" y1="898.88" x2="1011.55" y2="898.88" stroke="#e2e2e2" stroke-width="0.8"/>
<rect x="879.35" y="916.20" width="132.20" height="89.90" fill="#f6e1dc" />
<path d="M945.15,926.10 A35.60,35.60 0 1 1 909.55,961.70 L927.35,961.70 A17.80,17.80 0 1 0 945.15,943.90 Z" fill="#ecc5bd"/>
<text x="945.15" y="963.90" font-size="6.2" fill="#111" text-anchor="middle" font-weight="bold" textLength="16.0" lengthAdjust="spacingAndGlyphs" stroke="#111" stroke-width=".3">75%</text>
<rect x="1029.30" y="775.20" width="132.20" height="12.20" fill="#dba49a" />
<text x="1095.40" y="783.50" font-size="5.9" fill="#fff" text-anchor="middle" font-weight="bold" textLength="58.0" lengthAdjust="spacingAndGlyphs" stroke="#fff" stroke-width=".3">WEEK 5 GOALS</text>
<rect x="1035.20" y="795.60" width="7.60" height="7.60" rx="1.0" fill="#d99f94"/>
<path d="M1036.70,799.50 l1.7,1.8 l3.1,-3.8" fill="none" stroke="#fff" stroke-opacity=".85" stroke-width="0.95" stroke-linecap="round" stroke-linejoin="round"/>
<line x1="1047.80" y1="805.00" x2="1161.50" y2="805.00" stroke="#e2e2e2" stroke-width="0.8"/>
<text x="1049.60" y="802.20" font-size="6.4" fill="#444" text-anchor="start" font-weight="normal" textLength="20.0" lengthAdjust="spacingAndGlyphs" >Goal 1</text>
<rect x="1035.70" y="807.84" width="6.60" height="6.60" rx="0.9" fill="#fff" stroke="#dda79d" stroke-width="1.0"/>
<line x1="1047.80" y1="816.74" x2="1161.50" y2="816.74" stroke="#e2e2e2" stroke-width="0.8"/>
<text x="1049.60" y="813.93" font-size="6.4" fill="#444" text-anchor="start" font-weight="normal" textLength="20.0" lengthAdjust="spacingAndGlyphs" >Goal 2</text>
<rect x="1035.70" y="819.57" width="6.60" height="6.60" rx="0.9" fill="#fff" stroke="#dda79d" stroke-width="1.0"/>
<line x1="1047.80" y1="828.47" x2="1161.50" y2="828.47" stroke="#e2e2e2" stroke-width="0.8"/>
<text x="1049.60" y="825.67" font-size="6.4" fill="#444" text-anchor="start" font-weight="normal" textLength="20.0" lengthAdjust="spacingAndGlyphs" >Goal 3</text>
<rect x="1035.20" y="830.81" width="7.60" height="7.60" rx="1.0" fill="#d99f94"/>
<path d="M1036.70,834.71 l1.7,1.8 l3.1,-3.8" fill="none" stroke="#fff" stroke-opacity=".85" stroke-width="0.95" stroke-linecap="round" stroke-linejoin="round"/>
<line x1="1047.80" y1="840.21" x2="1161.50" y2="840.21" stroke="#e2e2e2" stroke-width="0.8"/>
<text x="1049.60" y="837.40" font-size="6.4" fill="#444" text-anchor="start" font-weight="normal" textLength="20.0" lengthAdjust="spacingAndGlyphs" >Goal 4</text>
<rect x="1035.20" y="842.54" width="7.60" height="7.60" rx="1.0" fill="#d99f94"/>
<path d="M1036.70,846.44 l1.7,1.8 l3.1,-3.8" fill="none" stroke="#fff" stroke-opacity=".85" stroke-width="0.95" stroke-linecap="round" stroke-linejoin="round"/>
<line x1="1047.80" y1="851.94" x2="1161.50" y2="851.94" stroke="#e2e2e2" stroke-width="0.8"/>
<text x="1049.60" y="849.14" font-size="6.4" fill="#444" text-anchor="start" font-weight="normal" textLength="20.0" lengthAdjust="spacingAndGlyphs" >Goal 5</text>
<rect x="1035.70" y="854.77" width="6.60" height="6.60" rx="0.9" fill="#fff" stroke="#dda79d" stroke-width="1.0"/>
<line x1="1047.80" y1="863.67" x2="1161.50" y2="863.67" stroke="#e2e2e2" stroke-width="0.8"/>
<rect x="1035.70" y="866.51" width="6.60" height="6.60" rx="0.9" fill="#fff" stroke="#dda79d" stroke-width="1.0"/>
<line x1="1047.80" y1="875.41" x2="1161.50" y2="875.41" stroke="#e2e2e2" stroke-width="0.8"/>
<rect x="1035.70" y="878.25" width="6.60" height="6.60" rx="0.9" fill="#fff" stroke="#dda79d" stroke-width="1.0"/>
<line x1="1047.80" y1="887.14" x2="1161.50" y2="887.14" stroke="#e2e2e2" stroke-width="0.8"/>
<rect x="1035.70" y="889.98" width="6.60" height="6.60" rx="0.9" fill="#fff" stroke="#dda79d" stroke-width="1.0"/>
<line x1="1047.80" y1="898.88" x2="1161.50" y2="898.88" stroke="#e2e2e2" stroke-width="0.8"/>
<rect x="1029.30" y="916.20" width="132.20" height="89.90" fill="#f6dfda" />
<path d="M1095.10,926.10 A35.60,35.60 0 1 1 1074.17,990.50 L1084.64,976.10 A17.80,17.80 0 1 0 1095.10,943.90 Z" fill="#dba49a"/>
<text x="1095.10" y="963.90" font-size="6.2" fill="#111" text-anchor="middle" font-weight="bold" textLength="16.0" lengthAdjust="spacingAndGlyphs" stroke="#111" stroke-width=".3">60%</text>
<rect x="429.50" y="1029.20" width="355.40" height="11.90" fill="#ececec" />
<line x1="429.50" y1="1041.10" x2="784.90" y2="1041.10" stroke="#e4e4e4" stroke-width="0.8"/>
<line x1="429.50" y1="1052.72" x2="784.90" y2="1052.72" stroke="#e4e4e4" stroke-width="0.8"/>
<line x1="429.50" y1="1064.34" x2="784.90" y2="1064.34" stroke="#e4e4e4" stroke-width="0.8"/>
<line x1="429.50" y1="1075.96" x2="784.90" y2="1075.96" stroke="#e4e4e4" stroke-width="0.8"/>
<line x1="429.50" y1="1087.58" x2="784.90" y2="1087.58" stroke="#e4e4e4" stroke-width="0.8"/>
<line x1="429.50" y1="1099.20" x2="784.90" y2="1099.20" stroke="#e4e4e4" stroke-width="0.8"/>
<line x1="429.50" y1="1110.82" x2="784.90" y2="1110.82" stroke="#e4e4e4" stroke-width="0.8"/>
<line x1="429.50" y1="1122.44" x2="784.90" y2="1122.44" stroke="#e4e4e4" stroke-width="0.8"/>
<line x1="429.50" y1="1134.06" x2="784.90" y2="1134.06" stroke="#e4e4e4" stroke-width="0.8"/>
<line x1="429.50" y1="1041.10" x2="429.50" y2="1134.06" stroke="#e4e4e4" stroke-width="0.8"/>
<line x1="484.80" y1="1041.10" x2="484.80" y2="1134.06" stroke="#e4e4e4" stroke-width="0.8"/>
<line x1="766.70" y1="1041.10" x2="766.70" y2="1134.06" stroke="#e4e4e4" stroke-width="0.8"/>
<line x1="784.90" y1="1041.10" x2="784.90" y2="1134.06" stroke="#e4e4e4" stroke-width="0.8"/>
<text x="457.15" y="1037.40" font-size="6.2" fill="#666" text-anchor="middle" font-weight="normal" textLength="19.0" lengthAdjust="spacingAndGlyphs" >DATE</text>
<text x="625.50" y="1037.40" font-size="5.8" fill="#111" text-anchor="middle" font-weight="bold" textLength="95.0" lengthAdjust="spacingAndGlyphs"  stroke="#111" stroke-width=".22">EVENTS/APPOINTMENTS</text>
<path d="M774.00,1035.30 l1.2,1.5 l2.4,-3.6" fill="none" stroke="#222" stroke-width="0.9" stroke-linecap="round"/>
<rect x="772.40" y="1043.01" width="7.40" height="7.40" rx="0.9" fill="#fff" stroke="#a3a3a3" stroke-width="1.2"/>
<rect x="772.40" y="1054.63" width="7.40" height="7.40" rx="0.9" fill="#fff" stroke="#a3a3a3" stroke-width="1.2"/>
<rect x="772.40" y="1066.25" width="7.40" height="7.40" rx="0.9" fill="#fff" stroke="#a3a3a3" stroke-width="1.2"/>
<rect x="772.40" y="1077.87" width="7.40" height="7.40" rx="0.9" fill="#fff" stroke="#a3a3a3" stroke-width="1.2"/>
<rect x="772.40" y="1089.49" width="7.40" height="7.40" rx="0.9" fill="#fff" stroke="#a3a3a3" stroke-width="1.2"/>
<rect x="772.40" y="1101.11" width="7.40" height="7.40" rx="0.9" fill="#fff" stroke="#a3a3a3" stroke-width="1.2"/>
<rect x="772.40" y="1112.73" width="7.40" height="7.40" rx="0.9" fill="#fff" stroke="#a3a3a3" stroke-width="1.2"/>
<rect x="772.40" y="1124.35" width="7.40" height="7.40" rx="0.9" fill="#fff" stroke="#a3a3a3" stroke-width="1.2"/>
<rect x="824.50" y="1029.20" width="355.40" height="11.90" fill="#ececec" />
<line x1="824.50" y1="1041.10" x2="1179.90" y2="1041.10" stroke="#e4e4e4" stroke-width="0.8"/>
<line x1="824.50" y1="1052.72" x2="1179.90" y2="1052.72" stroke="#e4e4e4" stroke-width="0.8"/>
<line x1="824.50" y1="1064.34" x2="1179.90" y2="1064.34" stroke="#e4e4e4" stroke-width="0.8"/>
<line x1="824.50" y1="1075.96" x2="1179.90" y2="1075.96" stroke="#e4e4e4" stroke-width="0.8"/>
<line x1="824.50" y1="1087.58" x2="1179.90" y2="1087.58" stroke="#e4e4e4" stroke-width="0.8"/>
<line x1="824.50" y1="1099.20" x2="1179.90" y2="1099.20" stroke="#e4e4e4" stroke-width="0.8"/>
<line x1="824.50" y1="1110.82" x2="1179.90" y2="1110.82" stroke="#e4e4e4" stroke-width="0.8"/>
<line x1="824.50" y1="1122.44" x2="1179.90" y2="1122.44" stroke="#e4e4e4" stroke-width="0.8"/>
<line x1="824.50" y1="1134.06" x2="1179.90" y2="1134.06" stroke="#e4e4e4" stroke-width="0.8"/>
<line x1="824.50" y1="1041.10" x2="824.50" y2="1134.06" stroke="#e4e4e4" stroke-width="0.8"/>
<line x1="879.00" y1="1041.10" x2="879.00" y2="1134.06" stroke="#e4e4e4" stroke-width="0.8"/>
<line x1="1125.10" y1="1041.10" x2="1125.10" y2="1134.06" stroke="#e4e4e4" stroke-width="0.8"/>
<line x1="1161.70" y1="1041.10" x2="1161.70" y2="1134.06" stroke="#e4e4e4" stroke-width="0.8"/>
<line x1="1179.90" y1="1041.10" x2="1179.90" y2="1134.06" stroke="#e4e4e4" stroke-width="0.8"/>
<text x="851.75" y="1037.40" font-size="6.2" fill="#666" text-anchor="middle" font-weight="normal" textLength="19.0" lengthAdjust="spacingAndGlyphs" >DATE</text>
<text x="1002.20" y="1037.40" font-size="5.8" fill="#111" text-anchor="middle" font-weight="bold" textLength="62.0" lengthAdjust="spacingAndGlyphs"  stroke="#111" stroke-width=".22">MONTHLY BILLS</text>
<path d="M1169.00,1035.30 l1.2,1.5 l2.4,-3.6" fill="none" stroke="#222" stroke-width="0.9" stroke-linecap="round"/>
<rect x="1167.40" y="1043.01" width="7.40" height="7.40" rx="0.9" fill="#fff" stroke="#a3a3a3" stroke-width="1.2"/>
<text x="1143.10" y="1048.91" font-size="6.9" fill="#555" text-anchor="middle" font-weight="normal" textLength="21.0" lengthAdjust="spacingAndGlyphs" >$0.00</text>
<rect x="1167.40" y="1054.63" width="7.40" height="7.40" rx="0.9" fill="#fff" stroke="#a3a3a3" stroke-width="1.2"/>
<text x="1143.10" y="1060.53" font-size="6.9" fill="#555" text-anchor="middle" font-weight="normal" textLength="21.0" lengthAdjust="spacingAndGlyphs" >$0.00</text>
<rect x="1167.40" y="1066.25" width="7.40" height="7.40" rx="0.9" fill="#fff" stroke="#a3a3a3" stroke-width="1.2"/>
<text x="1143.10" y="1072.15" font-size="6.9" fill="#555" text-anchor="middle" font-weight="normal" textLength="21.0" lengthAdjust="spacingAndGlyphs" >$0.00</text>
<rect x="1167.40" y="1077.87" width="7.40" height="7.40" rx="0.9" fill="#fff" stroke="#a3a3a3" stroke-width="1.2"/>
<text x="1143.10" y="1083.77" font-size="6.9" fill="#555" text-anchor="middle" font-weight="normal" textLength="21.0" lengthAdjust="spacingAndGlyphs" >$0.00</text>
<rect x="1167.40" y="1089.49" width="7.40" height="7.40" rx="0.9" fill="#fff" stroke="#a3a3a3" stroke-width="1.2"/>
<text x="1143.10" y="1095.39" font-size="6.9" fill="#555" text-anchor="middle" font-weight="normal" textLength="21.0" lengthAdjust="spacingAndGlyphs" >$0.00</text>
<rect x="1167.40" y="1101.11" width="7.40" height="7.40" rx="0.9" fill="#fff" stroke="#a3a3a3" stroke-width="1.2"/>
<text x="1143.10" y="1107.01" font-size="6.9" fill="#555" text-anchor="middle" font-weight="normal" textLength="21.0" lengthAdjust="spacingAndGlyphs" >$0.00</text>
<rect x="1167.40" y="1112.73" width="7.40" height="7.40" rx="0.9" fill="#fff" stroke="#a3a3a3" stroke-width="1.2"/>
<text x="1143.10" y="1118.63" font-size="6.9" fill="#555" text-anchor="middle" font-weight="normal" textLength="21.0" lengthAdjust="spacingAndGlyphs" >$0.00</text>
<rect x="1167.40" y="1124.35" width="7.40" height="7.40" rx="0.9" fill="#fff" stroke="#a3a3a3" stroke-width="1.2"/>
<text x="1143.10" y="1130.25" font-size="6.9" fill="#555" text-anchor="middle" font-weight="normal" textLength="21.0" lengthAdjust="spacingAndGlyphs" >$0.00</text>
<text x="1143.10" y="1037.40" font-size="6.2" fill="#555" text-anchor="middle" font-weight="normal" >$</text>
<line x1="1085.20" y1="1145.66" x2="1161.70" y2="1145.66" stroke="#e4e4e4" stroke-width="0.8"/>
<line x1="1085.20" y1="1134.06" x2="1085.20" y2="1145.66" stroke="#e4e4e4" stroke-width="0.8"/>
<line x1="1125.10" y1="1134.06" x2="1125.10" y2="1145.66" stroke="#e4e4e4" stroke-width="0.8"/>
<line x1="1161.70" y1="1134.06" x2="1161.70" y2="1145.66" stroke="#e4e4e4" stroke-width="0.8"/>
<text x="1099.20" y="1142.06" font-size="5.8" fill="#111" text-anchor="middle" font-weight="bold" textLength="24.0" lengthAdjust="spacingAndGlyphs"  stroke="#111" stroke-width=".22">TOTAL</text>
<text x="1143.10" y="1141.96" font-size="6.9" fill="#555" text-anchor="middle" font-weight="normal" textLength="21.0" lengthAdjust="spacingAndGlyphs" >$0.00</text>
</g></svg>
</div></body></html>
